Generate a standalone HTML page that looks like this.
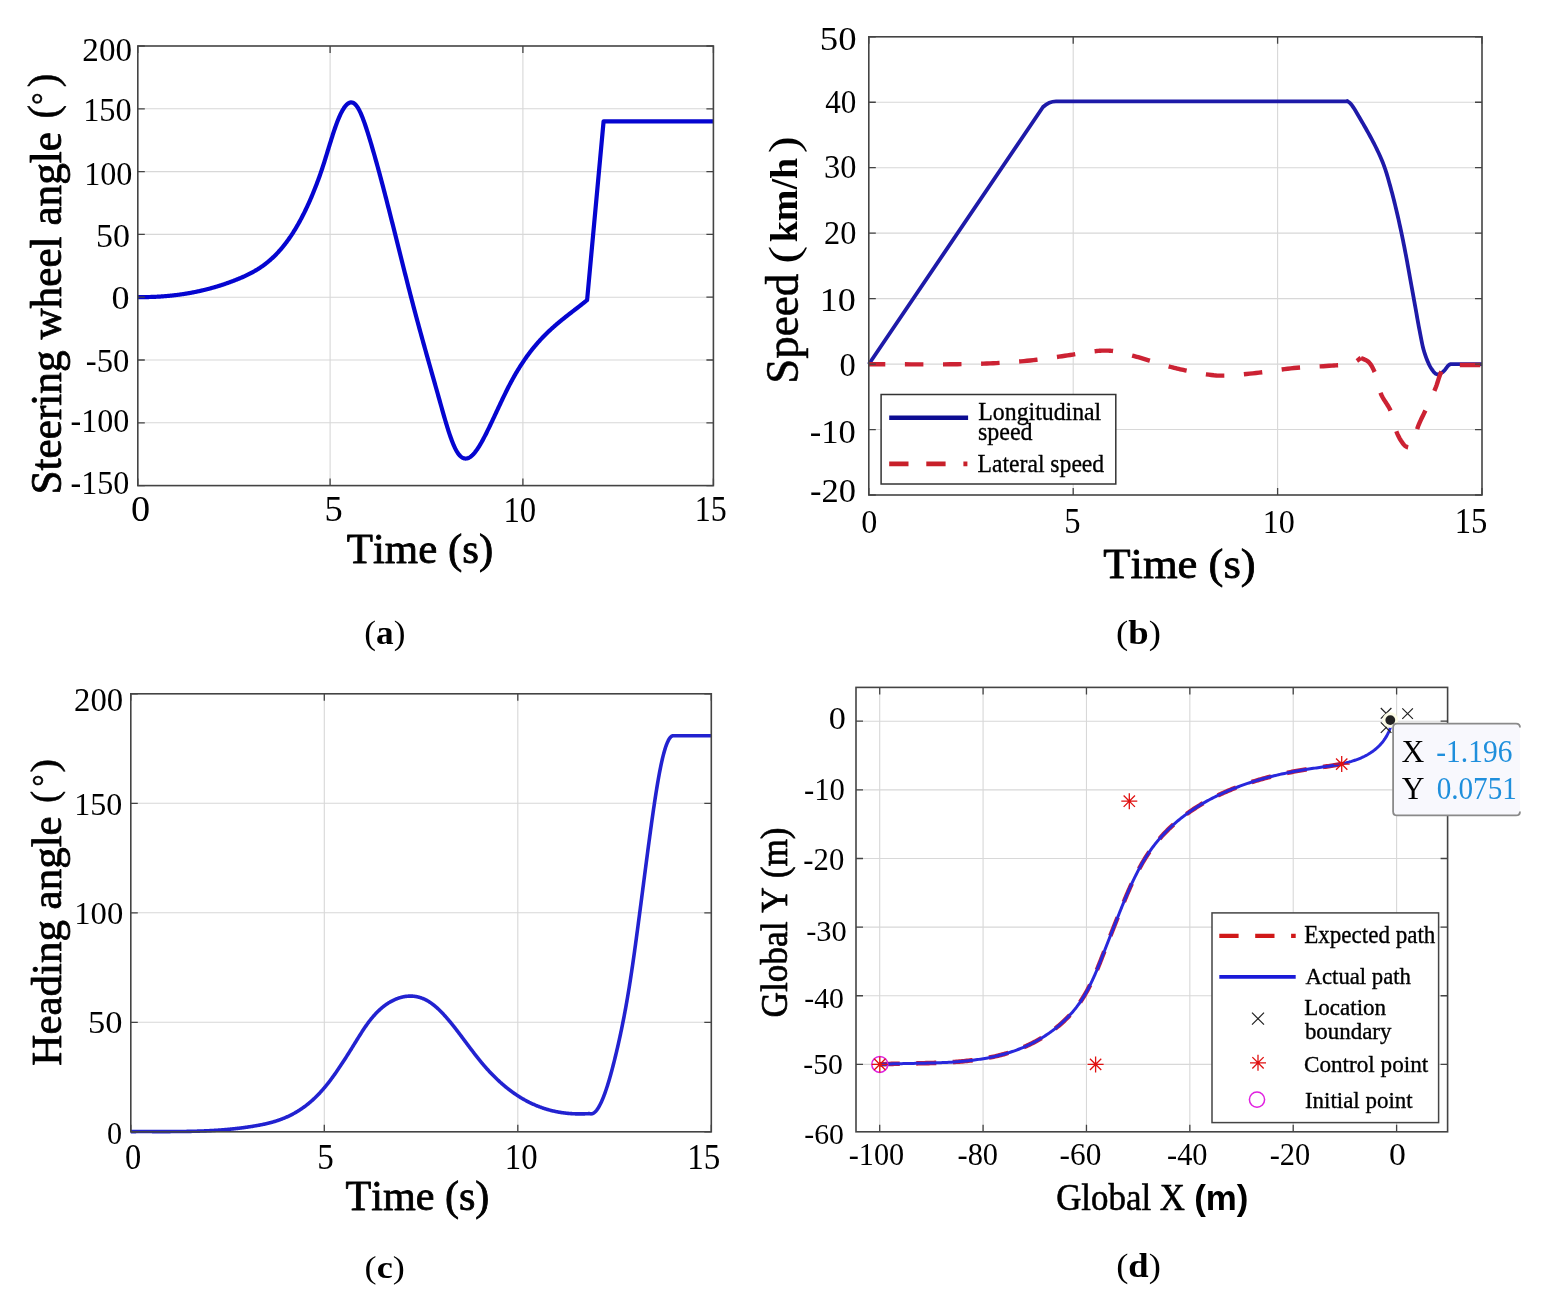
<!DOCTYPE html>
<html><head><meta charset="utf-8"><title>Figure</title><style>html,body{margin:0;padding:0;background:#fff;}body{width:1550px;height:1304px;overflow:hidden;}</style></head><body>
<svg width="1550" height="1304" viewBox="0 0 1550 1304" style="display:block;font-kerning:none">
<rect width="1550" height="1304" fill="#fff"/>
<path d="M330.10,46.00V485.60 M522.90,46.00V485.60 M137.80,108.80H713.40 M137.80,171.60H713.40 M137.80,234.40H713.40 M137.80,297.20H713.40 M137.80,360.00H713.40 M137.80,422.80H713.40" stroke="#d8d8d8" stroke-width="1.1" fill="none"/>
<path d="M137.80,297.10 L138.30,297.11 L138.80,297.11 L139.30,297.12 L139.80,297.12 L140.30,297.12 L140.80,297.12 L141.30,297.12 L141.80,297.12 L142.30,297.12 L142.80,297.12 L143.30,297.11 L143.80,297.11 L144.30,297.11 L144.80,297.10 L145.30,297.10 L145.80,297.09 L146.30,297.08 L146.80,297.07 L147.30,297.06 L147.80,297.05 L148.30,297.04 L148.80,297.03 L149.30,297.02 L149.80,297.00 L150.30,296.99 L150.80,296.97 L151.30,296.96 L151.80,296.94 L152.30,296.92 L152.80,296.91 L153.30,296.89 L153.80,296.87 L154.30,296.85 L154.80,296.82 L155.30,296.80 L155.80,296.78 L156.30,296.75 L156.80,296.73 L157.30,296.70 L157.80,296.67 L158.30,296.65 L158.80,296.62 L159.30,296.59 L159.80,296.56 L160.30,296.53 L160.80,296.49 L161.30,296.46 L161.80,296.43 L162.30,296.39 L162.80,296.35 L163.30,296.32 L163.80,296.28 L164.30,296.24 L164.80,296.20 L165.30,296.16 L165.80,296.12 L166.30,296.08 L166.80,296.03 L167.30,295.99 L167.80,295.94 L168.30,295.90 L168.80,295.85 L169.30,295.80 L169.80,295.75 L170.30,295.70 L170.80,295.65 L171.30,295.60 L171.80,295.55 L172.30,295.50 L172.80,295.44 L173.30,295.38 L173.80,295.33 L174.30,295.27 L174.80,295.21 L175.30,295.15 L175.80,295.09 L176.30,295.03 L176.80,294.97 L177.30,294.90 L177.80,294.84 L178.30,294.78 L178.80,294.71 L179.30,294.64 L179.80,294.57 L180.30,294.50 L180.80,294.43 L181.30,294.36 L181.80,294.29 L182.30,294.22 L182.80,294.14 L183.30,294.07 L183.80,293.99 L184.30,293.91 L184.80,293.83 L185.30,293.75 L185.80,293.67 L186.30,293.59 L186.80,293.51 L187.30,293.43 L187.80,293.34 L188.30,293.25 L188.80,293.17 L189.30,293.08 L189.80,292.99 L190.30,292.90 L190.80,292.81 L191.30,292.72 L191.80,292.62 L192.30,292.53 L192.80,292.43 L193.30,292.34 L193.80,292.24 L194.30,292.14 L194.80,292.04 L195.30,291.94 L195.80,291.84 L196.30,291.74 L196.80,291.63 L197.30,291.53 L197.80,291.42 L198.30,291.31 L198.80,291.21 L199.30,291.10 L199.80,290.99 L200.30,290.87 L200.80,290.76 L201.30,290.65 L201.80,290.53 L202.30,290.42 L202.80,290.30 L203.30,290.18 L203.80,290.06 L204.30,289.94 L204.80,289.82 L205.30,289.69 L205.80,289.57 L206.30,289.44 L206.80,289.32 L207.30,289.19 L207.80,289.06 L208.30,288.93 L208.80,288.80 L209.30,288.67 L209.80,288.54 L210.30,288.40 L210.80,288.26 L211.30,288.13 L211.80,287.99 L212.30,287.85 L212.80,287.71 L213.30,287.57 L213.80,287.43 L214.30,287.28 L214.80,287.14 L215.30,286.99 L215.80,286.84 L216.30,286.69 L216.80,286.54 L217.30,286.39 L217.80,286.24 L218.30,286.09 L218.80,285.93 L219.30,285.77 L219.80,285.62 L220.30,285.46 L220.80,285.30 L221.30,285.14 L221.80,284.97 L222.30,284.81 L222.80,284.65 L223.30,284.48 L223.80,284.31 L224.30,284.14 L224.80,283.98 L225.30,283.80 L225.80,283.63 L226.30,283.46 L226.80,283.28 L227.30,283.11 L227.80,282.93 L228.30,282.75 L228.80,282.57 L229.30,282.39 L229.80,282.21 L230.30,282.02 L230.80,281.84 L231.30,281.65 L231.80,281.47 L232.30,281.28 L232.80,281.09 L233.30,280.90 L233.80,280.70 L234.30,280.51 L234.80,280.31 L235.30,280.12 L235.80,279.92 L236.30,279.72 L236.80,279.52 L237.30,279.32 L237.80,279.11 L238.30,278.91 L238.80,278.70 L239.30,278.50 L239.80,278.29 L240.30,278.08 L240.80,277.86 L241.30,277.65 L241.80,277.44 L242.30,277.22 L242.80,277.00 L243.30,276.78 L243.80,276.55 L244.30,276.33 L244.80,276.10 L245.30,275.87 L245.80,275.64 L246.30,275.40 L246.80,275.17 L247.30,274.93 L247.80,274.68 L248.30,274.44 L248.80,274.19 L249.30,273.94 L249.80,273.69 L250.30,273.43 L250.80,273.17 L251.30,272.91 L251.80,272.64 L252.30,272.37 L252.80,272.10 L253.30,271.82 L253.80,271.54 L254.30,271.26 L254.80,270.97 L255.30,270.68 L255.80,270.39 L256.30,270.09 L256.80,269.79 L257.30,269.48 L257.80,269.17 L258.30,268.86 L258.80,268.54 L259.30,268.22 L259.80,267.89 L260.30,267.56 L260.80,267.22 L261.30,266.88 L261.80,266.54 L262.30,266.19 L262.80,265.83 L263.30,265.47 L263.80,265.11 L264.30,264.74 L264.80,264.36 L265.30,263.98 L265.80,263.60 L266.30,263.21 L266.80,262.81 L267.30,262.41 L267.80,262.00 L268.30,261.59 L268.80,261.17 L269.30,260.75 L269.80,260.32 L270.30,259.88 L270.80,259.44 L271.30,259.00 L271.80,258.54 L272.30,258.08 L272.80,257.62 L273.30,257.15 L273.80,256.67 L274.30,256.18 L274.80,255.69 L275.30,255.19 L275.80,254.69 L276.30,254.18 L276.80,253.66 L277.30,253.13 L277.80,252.60 L278.30,252.06 L278.80,251.52 L279.30,250.96 L279.80,250.40 L280.30,249.83 L280.80,249.26 L281.30,248.68 L281.80,248.09 L282.30,247.49 L282.80,246.88 L283.30,246.27 L283.80,245.65 L284.30,245.02 L284.80,244.38 L285.30,243.74 L285.80,243.09 L286.30,242.42 L286.80,241.75 L287.30,241.08 L287.80,240.39 L288.30,239.70 L288.80,238.99 L289.30,238.28 L289.80,237.56 L290.30,236.83 L290.80,236.10 L291.30,235.35 L291.80,234.59 L292.30,233.83 L292.80,233.05 L293.30,232.27 L293.80,231.48 L294.30,230.68 L294.80,229.87 L295.30,229.05 L295.80,228.22 L296.30,227.38 L296.80,226.53 L297.30,225.67 L297.80,224.80 L298.30,223.92 L298.80,223.03 L299.30,222.13 L299.80,221.22 L300.30,220.31 L300.80,219.38 L301.30,218.44 L301.80,217.49 L302.30,216.53 L302.80,215.56 L303.30,214.57 L303.80,213.58 L304.30,212.58 L304.80,211.56 L305.30,210.54 L305.80,209.50 L306.30,208.45 L306.80,207.39 L307.30,206.32 L307.80,205.24 L308.30,204.15 L308.80,203.04 L309.30,201.92 L309.80,200.79 L310.30,199.65 L310.80,198.50 L311.30,197.33 L311.80,196.15 L312.30,194.96 L312.80,193.76 L313.30,192.54 L313.80,191.31 L314.30,190.07 L314.80,188.82 L315.30,187.55 L315.80,186.27 L316.30,184.98 L316.80,183.67 L317.30,182.35 L317.80,181.01 L318.30,179.66 L318.80,178.29 L319.30,176.91 L319.80,175.51 L320.30,174.09 L320.80,172.65 L321.30,171.19 L321.80,169.71 L322.30,168.22 L322.80,166.70 L323.30,165.16 L323.80,163.61 L324.30,162.03 L324.80,160.45 L325.30,158.85 L325.80,157.24 L326.30,155.63 L326.80,154.00 L327.30,152.37 L327.80,150.74 L328.30,149.11 L328.80,147.48 L329.30,145.86 L329.80,144.24 L330.30,142.62 L330.80,141.01 L331.30,139.42 L331.80,137.84 L332.30,136.27 L332.80,134.72 L333.30,133.18 L333.80,131.67 L334.30,130.18 L334.80,128.71 L335.30,127.27 L335.80,125.86 L336.30,124.48 L336.80,123.13 L337.30,121.81 L337.80,120.53 L338.30,119.28 L338.80,118.08 L339.30,116.91 L339.80,115.78 L340.30,114.69 L340.80,113.65 L341.30,112.64 L341.80,111.68 L342.30,110.76 L342.80,109.88 L343.30,109.05 L343.80,108.27 L344.30,107.53 L344.80,106.83 L345.30,106.19 L345.80,105.59 L346.30,105.04 L346.80,104.54 L347.30,104.10 L347.80,103.70 L348.30,103.36 L348.80,103.07 L349.30,102.83 L349.80,102.64 L350.30,102.51 L350.80,102.44 L351.30,102.43 L351.80,102.47 L352.30,102.56 L352.80,102.72 L353.30,102.94 L353.80,103.21 L354.30,103.55 L354.80,103.95 L355.30,104.41 L355.80,104.94 L356.30,105.53 L356.80,106.18 L357.30,106.89 L357.80,107.67 L358.30,108.50 L358.80,109.39 L359.30,110.34 L359.80,111.34 L360.30,112.39 L360.80,113.49 L361.30,114.63 L361.80,115.83 L362.30,117.06 L362.80,118.33 L363.30,119.65 L363.80,121.00 L364.30,122.39 L364.80,123.81 L365.30,125.26 L365.80,126.74 L366.30,128.25 L366.80,129.79 L367.30,131.35 L367.80,132.93 L368.30,134.53 L368.80,136.15 L369.30,137.78 L369.80,139.43 L370.30,141.09 L370.80,142.76 L371.30,144.45 L371.80,146.14 L372.30,147.85 L372.80,149.57 L373.30,151.29 L373.80,153.03 L374.30,154.78 L374.80,156.54 L375.30,158.31 L375.80,160.09 L376.30,161.88 L376.80,163.68 L377.30,165.48 L377.80,167.30 L378.30,169.13 L378.80,170.96 L379.30,172.80 L379.80,174.65 L380.30,176.51 L380.80,178.37 L381.30,180.24 L381.80,182.12 L382.30,184.01 L382.80,185.90 L383.30,187.80 L383.80,189.71 L384.30,191.62 L384.80,193.54 L385.30,195.46 L385.80,197.39 L386.30,199.32 L386.80,201.26 L387.30,203.21 L387.80,205.15 L388.30,207.11 L388.80,209.07 L389.30,211.03 L389.80,212.99 L390.30,214.96 L390.80,216.93 L391.30,218.91 L391.80,220.89 L392.30,222.87 L392.80,224.85 L393.30,226.84 L393.80,228.82 L394.30,230.81 L394.80,232.80 L395.30,234.80 L395.80,236.79 L396.30,238.79 L396.80,240.78 L397.30,242.78 L397.80,244.78 L398.30,246.77 L398.80,248.77 L399.30,250.77 L399.80,252.76 L400.30,254.76 L400.80,256.75 L401.30,258.75 L401.80,260.74 L402.30,262.73 L402.80,264.72 L403.30,266.71 L403.80,268.69 L404.30,270.67 L404.80,272.65 L405.30,274.63 L405.80,276.60 L406.30,278.58 L406.80,280.54 L407.30,282.51 L407.80,284.47 L408.30,286.42 L408.80,288.38 L409.30,290.32 L409.80,292.27 L410.30,294.20 L410.80,296.14 L411.30,298.06 L411.80,299.98 L412.30,301.90 L412.80,303.81 L413.30,305.71 L413.80,307.61 L414.30,309.50 L414.80,311.39 L415.30,313.26 L415.80,315.14 L416.30,317.00 L416.80,318.86 L417.30,320.72 L417.80,322.57 L418.30,324.41 L418.80,326.25 L419.30,328.08 L419.80,329.91 L420.30,331.73 L420.80,333.55 L421.30,335.37 L421.80,337.18 L422.30,338.99 L422.80,340.79 L423.30,342.59 L423.80,344.39 L424.30,346.18 L424.80,347.98 L425.30,349.76 L425.80,351.55 L426.30,353.33 L426.80,355.11 L427.30,356.89 L427.80,358.67 L428.30,360.44 L428.80,362.21 L429.30,363.99 L429.80,365.76 L430.30,367.53 L430.80,369.29 L431.30,371.06 L431.80,372.83 L432.30,374.60 L432.80,376.36 L433.30,378.13 L433.80,379.90 L434.30,381.66 L434.80,383.43 L435.30,385.20 L435.80,386.97 L436.30,388.74 L436.80,390.51 L437.30,392.28 L437.80,394.05 L438.30,395.83 L438.80,397.61 L439.30,399.39 L439.80,401.17 L440.30,402.95 L440.80,404.73 L441.30,406.51 L441.80,408.29 L442.30,410.06 L442.80,411.83 L443.30,413.58 L443.80,415.32 L444.30,417.06 L444.80,418.78 L445.30,420.48 L445.80,422.16 L446.30,423.83 L446.80,425.47 L447.30,427.10 L447.80,428.70 L448.30,430.27 L448.80,431.81 L449.30,433.33 L449.80,434.82 L450.30,436.27 L450.80,437.69 L451.30,439.07 L451.80,440.41 L452.30,441.72 L452.80,442.98 L453.30,444.20 L453.80,445.38 L454.30,446.51 L454.80,447.59 L455.30,448.63 L455.80,449.61 L456.30,450.54 L456.80,451.41 L457.30,452.23 L457.80,453.00 L458.30,453.71 L458.80,454.37 L459.30,454.98 L459.80,455.53 L460.30,456.04 L460.80,456.50 L461.30,456.91 L461.80,457.27 L462.30,457.58 L462.80,457.85 L463.30,458.08 L463.80,458.25 L464.30,458.39 L464.80,458.48 L465.30,458.53 L465.80,458.54 L466.30,458.51 L466.80,458.44 L467.30,458.33 L467.80,458.18 L468.30,457.99 L468.80,457.77 L469.30,457.51 L469.80,457.22 L470.30,456.89 L470.80,456.53 L471.30,456.14 L471.80,455.72 L472.30,455.26 L472.80,454.77 L473.30,454.26 L473.80,453.72 L474.30,453.15 L474.80,452.55 L475.30,451.92 L475.80,451.27 L476.30,450.60 L476.80,449.90 L477.30,449.18 L477.80,448.44 L478.30,447.67 L478.80,446.89 L479.30,446.08 L479.80,445.26 L480.30,444.42 L480.80,443.56 L481.30,442.68 L481.80,441.79 L482.30,440.89 L482.80,439.97 L483.30,439.03 L483.80,438.08 L484.30,437.13 L484.80,436.16 L485.30,435.18 L485.80,434.19 L486.30,433.19 L486.80,432.19 L487.30,431.17 L487.80,430.16 L488.30,429.13 L488.80,428.10 L489.30,427.07 L489.80,426.03 L490.30,424.99 L490.80,423.94 L491.30,422.89 L491.80,421.84 L492.30,420.78 L492.80,419.72 L493.30,418.66 L493.80,417.60 L494.30,416.53 L494.80,415.46 L495.30,414.40 L495.80,413.33 L496.30,412.26 L496.80,411.19 L497.30,410.12 L497.80,409.05 L498.30,407.99 L498.80,406.92 L499.30,405.86 L499.80,404.79 L500.30,403.73 L500.80,402.67 L501.30,401.62 L501.80,400.57 L502.30,399.52 L502.80,398.47 L503.30,397.43 L503.80,396.39 L504.30,395.36 L504.80,394.33 L505.30,393.31 L505.80,392.29 L506.30,391.28 L506.80,390.28 L507.30,389.28 L507.80,388.29 L508.30,387.30 L508.80,386.33 L509.30,385.36 L509.80,384.40 L510.30,383.44 L510.80,382.50 L511.30,381.57 L511.80,380.64 L512.30,379.72 L512.80,378.81 L513.30,377.91 L513.80,377.02 L514.30,376.14 L514.80,375.26 L515.30,374.39 L515.80,373.53 L516.30,372.68 L516.80,371.84 L517.30,371.00 L517.80,370.18 L518.30,369.36 L518.80,368.54 L519.30,367.74 L519.80,366.94 L520.30,366.15 L520.80,365.37 L521.30,364.60 L521.80,363.83 L522.30,363.07 L522.80,362.32 L523.30,361.57 L523.80,360.83 L524.30,360.10 L524.80,359.38 L525.30,358.66 L525.80,357.95 L526.30,357.24 L526.80,356.54 L527.30,355.85 L527.80,355.17 L528.30,354.49 L528.80,353.82 L529.30,353.15 L529.80,352.49 L530.30,351.84 L530.80,351.19 L531.30,350.55 L531.80,349.91 L532.30,349.28 L532.80,348.66 L533.30,348.04 L533.80,347.43 L534.30,346.82 L534.80,346.22 L535.30,345.62 L535.80,345.03 L536.30,344.44 L536.80,343.86 L537.30,343.29 L537.80,342.72 L538.30,342.15 L538.80,341.59 L539.30,341.04 L539.80,340.49 L540.30,339.94 L540.80,339.40 L541.30,338.86 L541.80,338.33 L542.30,337.80 L542.80,337.28 L543.30,336.76 L543.80,336.25 L544.30,335.74 L544.80,335.23 L545.30,334.73 L545.80,334.23 L546.30,333.74 L546.80,333.25 L547.30,332.76 L547.80,332.28 L548.30,331.80 L548.80,331.32 L549.30,330.85 L549.80,330.38 L550.30,329.91 L550.80,329.45 L551.30,328.99 L551.80,328.54 L552.30,328.09 L552.80,327.64 L553.30,327.19 L553.80,326.74 L554.30,326.30 L554.80,325.87 L555.30,325.43 L555.80,325.00 L556.30,324.57 L556.80,324.14 L557.30,323.71 L557.80,323.29 L558.30,322.87 L558.80,322.45 L559.30,322.03 L559.80,321.62 L560.30,321.20 L560.80,320.79 L561.30,320.38 L561.80,319.98 L562.30,319.57 L562.80,319.17 L563.30,318.77 L563.80,318.36 L564.30,317.97 L564.80,317.57 L565.30,317.17 L565.80,316.78 L566.30,316.38 L566.80,315.99 L567.30,315.60 L567.80,315.20 L568.30,314.81 L568.80,314.42 L569.30,314.03 L569.80,313.65 L570.30,313.26 L570.80,312.87 L571.30,312.48 L571.80,312.10 L572.30,311.71 L572.80,311.33 L573.30,310.94 L573.80,310.56 L574.30,310.17 L574.80,309.78 L575.30,309.40 L575.80,309.01 L576.30,308.63 L576.80,308.24 L577.30,307.85 L577.80,307.47 L578.30,307.08 L578.80,306.69 L579.30,306.30 L579.80,305.91 L580.30,305.52 L580.80,305.13 L581.30,304.74 L581.80,304.35 L582.30,303.95 L582.80,303.56 L583.30,303.16 L583.80,302.76 L584.30,302.37 L584.80,301.96 L585.30,301.56 L585.80,301.16 L586.30,300.75 L586.80,300.35 L587.10,300.10 L603.6,121.3 L713.4,121.3" stroke="#0505d0" stroke-width="4.2" fill="none" stroke-linejoin="round"/>
<path d="M137.80,485.60v-7 M137.80,46.00v7 M330.10,485.60v-7 M330.10,46.00v7 M522.90,485.60v-7 M522.90,46.00v7 M713.40,485.60v-7 M713.40,46.00v7 M137.80,46.00h7 M713.40,46.00h-7 M137.80,108.80h7 M713.40,108.80h-7 M137.80,171.60h7 M713.40,171.60h-7 M137.80,234.40h7 M713.40,234.40h-7 M137.80,297.20h7 M713.40,297.20h-7 M137.80,360.00h7 M713.40,360.00h-7 M137.80,422.80h7 M713.40,422.80h-7 M137.80,485.60h7 M713.40,485.60h-7" stroke="#444" stroke-width="1.3" fill="none"/>
<rect x="137.80" y="46.00" width="575.60" height="439.60" stroke="#444" stroke-width="1.6" fill="none"/>
<text transform="translate(82.35,61.37) scale(0.9832,1)" font-family="'Liberation Serif', 'Times New Roman', serif" font-weight="normal" font-size="33.64" fill="#000" >200</text>
<text transform="translate(83.15,120.67) scale(0.9628,1)" font-family="'Liberation Serif', 'Times New Roman', serif" font-weight="normal" font-size="33.64" fill="#000" >150</text>
<text transform="translate(84.17,184.67) scale(0.9563,1)" font-family="'Liberation Serif', 'Times New Roman', serif" font-weight="normal" font-size="33.64" fill="#000" >100</text>
<text transform="translate(96.03,247.17) scale(1.0098,1)" font-family="'Liberation Serif', 'Times New Roman', serif" font-weight="normal" font-size="33.64" fill="#000" >50</text>
<text transform="translate(111.43,309.17) scale(1.0731,1)" font-family="'Liberation Serif', 'Times New Roman', serif" font-weight="normal" font-size="33.64" fill="#000" >0</text>
<text transform="translate(85.79,371.57) scale(0.9714,1)" font-family="'Liberation Serif', 'Times New Roman', serif" font-weight="normal" font-size="33.64" fill="#000" >-50</text>
<text transform="translate(70.51,432.27) scale(0.9538,1)" font-family="'Liberation Serif', 'Times New Roman', serif" font-weight="normal" font-size="33.64" fill="#000" >-100</text>
<text transform="translate(70.51,493.67) scale(0.9538,1)" font-family="'Liberation Serif', 'Times New Roman', serif" font-weight="normal" font-size="33.64" fill="#000" >-150</text>
<text transform="translate(130.94,520.65) scale(1.0747,1)" font-family="'Liberation Serif', 'Times New Roman', serif" font-weight="normal" font-size="35.57" fill="#000" >0</text>
<text transform="translate(324.58,520.66) scale(1.0408,1)" font-family="'Liberation Serif', 'Times New Roman', serif" font-weight="normal" font-size="35.06" fill="#000" >5</text>
<text transform="translate(503.42,521.66) scale(0.9396,1)" font-family="'Liberation Serif', 'Times New Roman', serif" font-weight="normal" font-size="34.82" fill="#000" >10</text>
<text transform="translate(694.69,520.66) scale(0.9071,1)" font-family="'Liberation Serif', 'Times New Roman', serif" font-weight="normal" font-size="35.23" fill="#000" >15</text>
<text transform="translate(346.72,563.00) scale(1.0220,1)" font-family="'Liberation Serif', 'Times New Roman', serif" font-weight="normal" font-size="41.98" fill="#000" stroke="#000" stroke-width="0.8" stroke-linejoin="round" >Time (s)</text>
<text transform="translate(61.30,494.49) rotate(-90) scale(0.9706,1)" font-family="'Liberation Serif', 'Times New Roman', serif" font-weight="normal" font-size="44.56" fill="#000" stroke="#000" stroke-width="0.8" stroke-linejoin="round">Steering wheel angle</text>
<text transform="translate(57.10,118.48) rotate(-90) scale(0.9664,1)" font-family="'Liberation Serif', 'Times New Roman', serif" font-weight="normal" font-size="41.90" fill="#000" stroke="#000" stroke-width="0.5" stroke-linejoin="round">(</text>
<text transform="translate(54.40,104.65) rotate(-90) scale(0.9393,1)" font-family="'Liberation Serif', 'Times New Roman', serif" font-weight="normal" font-size="32.30" fill="#000" stroke="#000" stroke-width="0.5" stroke-linejoin="round">°</text>
<text transform="translate(57.10,87.30) rotate(-90) scale(0.9664,1)" font-family="'Liberation Serif', 'Times New Roman', serif" font-weight="normal" font-size="41.90" fill="#000" stroke="#000" stroke-width="0.5" stroke-linejoin="round">)</text>
<text transform="translate(364.35,643.60) scale(1.0149,1)" font-family="'Liberation Serif', 'Times New Roman', serif" font-size="34.73">(<tspan font-weight="bold">a</tspan>)</text>
<text transform="translate(1116.09,644.40) scale(1.0696,1)" font-family="'Liberation Serif', 'Times New Roman', serif" font-size="34.29">(<tspan font-weight="bold">b</tspan>)</text>
<text transform="translate(364.61,1277.90) scale(1.1169,1)" font-family="'Liberation Serif', 'Times New Roman', serif" font-size="32.41">(<tspan font-weight="bold">c</tspan>)</text>
<text transform="translate(1116.19,1277.41) scale(1.0845,1)" font-family="'Liberation Serif', 'Times New Roman', serif" font-size="33.74">(<tspan font-weight="bold">d</tspan>)</text>
<path d="M1073.20,36.80V495.00 M1277.60,36.80V495.00 M868.80,102.26H1482.00 M868.80,167.71H1482.00 M868.80,233.17H1482.00 M868.80,298.63H1482.00 M868.80,364.09H1482.00 M868.80,429.54H1482.00" stroke="#d8d8d8" stroke-width="1.1" fill="none"/>
<path d="M868.8,364.2 L1043,107 Q1049,101.3 1056,101.3 L1347.3,101.3 L1347.30,101.00 L1347.58,101.22 L1347.85,101.43 L1348.12,101.62 L1348.39,101.81 L1348.66,101.99 L1348.93,102.19 L1349.20,102.39 L1349.48,102.61 L1349.77,102.86 L1350.07,103.14 L1350.38,103.45 L1350.70,103.80 L1351.47,104.73 L1352.30,105.86 L1353.18,107.14 L1354.11,108.57 L1355.08,110.11 L1356.08,111.74 L1357.10,113.45 L1358.13,115.20 L1359.17,116.97 L1360.19,118.75 L1361.21,120.50 L1362.20,122.20 L1363.34,124.17 L1364.52,126.20 L1365.71,128.30 L1366.92,130.44 L1368.14,132.61 L1369.34,134.79 L1370.54,136.98 L1371.71,139.16 L1372.85,141.32 L1373.95,143.43 L1375.01,145.50 L1376.00,147.50 L1376.79,149.12 L1377.55,150.70 L1378.29,152.24 L1379.00,153.76 L1379.68,155.26 L1380.35,156.75 L1381.00,158.24 L1381.64,159.74 L1382.27,161.26 L1382.88,162.80 L1383.49,164.38 L1384.10,166.00 L1384.75,167.81 L1385.38,169.66 L1385.99,171.54 L1386.59,173.44 L1387.17,175.37 L1387.74,177.31 L1388.30,179.26 L1388.85,181.21 L1389.40,183.17 L1389.94,185.12 L1390.47,187.07 L1391.00,189.00 L1391.52,190.92 L1392.04,192.84 L1392.55,194.77 L1393.05,196.70 L1393.54,198.63 L1394.03,200.56 L1394.50,202.49 L1394.98,204.41 L1395.44,206.33 L1395.90,208.23 L1396.35,210.12 L1396.80,212.00 L1397.21,213.76 L1397.62,215.50 L1398.02,217.22 L1398.41,218.93 L1398.79,220.64 L1399.17,222.34 L1399.54,224.05 L1399.91,225.75 L1400.29,227.47 L1400.66,229.20 L1401.03,230.94 L1401.40,232.70 L1401.79,234.57 L1402.18,236.45 L1402.57,238.33 L1402.96,240.23 L1403.34,242.14 L1403.73,244.05 L1404.11,245.97 L1404.49,247.90 L1404.87,249.84 L1405.25,251.79 L1405.62,253.74 L1406.00,255.70 L1406.39,257.76 L1406.78,259.84 L1407.17,261.94 L1407.55,264.04 L1407.93,266.15 L1408.31,268.27 L1408.70,270.39 L1409.08,272.52 L1409.46,274.64 L1409.84,276.77 L1410.22,278.89 L1410.60,281.00 L1410.98,283.12 L1411.37,285.23 L1411.75,287.35 L1412.13,289.46 L1412.52,291.58 L1412.90,293.70 L1413.28,295.82 L1413.67,297.94 L1414.05,300.05 L1414.43,302.17 L1414.82,304.28 L1415.20,306.40 L1415.58,308.52 L1415.96,310.65 L1416.34,312.79 L1416.71,314.93 L1417.09,317.08 L1417.47,319.22 L1417.85,321.35 L1418.23,323.46 L1418.62,325.56 L1419.00,327.64 L1419.40,329.68 L1419.80,331.70 L1420.16,333.51 L1420.51,335.31 L1420.85,337.10 L1421.19,338.88 L1421.53,340.64 L1421.88,342.38 L1422.24,344.11 L1422.62,345.81 L1423.02,347.50 L1423.45,349.16 L1423.91,350.79 L1424.40,352.40 L1424.88,353.86 L1425.38,355.34 L1425.90,356.82 L1426.44,358.29 L1427.00,359.75 L1427.58,361.18 L1428.17,362.56 L1428.77,363.90 L1429.39,365.17 L1430.02,366.37 L1430.66,367.48 L1431.30,368.50 L1431.74,369.16 L1432.19,369.81 L1432.65,370.46 L1433.10,371.08 L1433.57,371.67 L1434.04,372.22 L1434.51,372.73 L1435.00,373.19 L1435.49,373.58 L1435.98,373.90 L1436.49,374.14 L1437.00,374.30 L1437.46,374.36 L1437.93,374.35 L1438.41,374.28 L1438.89,374.16 L1439.38,373.99 L1439.87,373.78 L1440.37,373.53 L1440.86,373.25 L1441.36,372.96 L1441.84,372.64 L1442.33,372.32 L1442.80,372.00 L1443.39,371.53 L1443.97,370.95 L1444.54,370.30 L1445.11,369.58 L1445.67,368.83 L1446.23,368.06 L1446.79,367.31 L1447.36,366.59 L1447.93,365.93 L1448.51,365.34 L1449.10,364.86 L1449.70,364.50 L1450.17,364.31 L1450.64,364.18 L1451.11,364.10 L1451.60,364.06 L1452.08,364.05 L1452.57,364.06 L1453.06,364.09 L1453.55,364.13 L1454.04,364.17 L1454.53,364.20 L1455.02,364.21 L1455.50,364.20 L1482,364.2" stroke="#1e1aa8" stroke-width="3.8" fill="none" stroke-linejoin="round"/>
<path d="M868.80,364.20 L875.66,364.21 L882.66,364.24 L889.77,364.26 L896.92,364.29 L904.07,364.32 L911.18,364.35 L918.18,364.37 L925.04,364.39 L931.70,364.39 L938.11,364.38 L944.23,364.35 L950.00,364.30 L953.83,364.26 L957.50,364.22 L961.02,364.17 L964.43,364.13 L967.74,364.07 L970.98,364.01 L974.16,363.95 L977.30,363.87 L980.44,363.77 L983.59,363.67 L986.77,363.54 L990.00,363.40 L993.13,363.25 L996.25,363.09 L999.35,362.92 L1002.43,362.74 L1005.50,362.55 L1008.57,362.35 L1011.63,362.13 L1014.69,361.90 L1017.76,361.65 L1020.83,361.39 L1023.91,361.10 L1027.00,360.80 L1030.17,360.47 L1033.37,360.11 L1036.59,359.72 L1039.83,359.31 L1043.07,358.89 L1046.30,358.46 L1049.51,358.01 L1052.70,357.57 L1055.86,357.12 L1058.96,356.67 L1062.01,356.23 L1065.00,355.80 L1067.60,355.42 L1070.24,355.01 L1072.88,354.59 L1075.52,354.15 L1078.12,353.72 L1080.69,353.30 L1083.18,352.89 L1085.59,352.50 L1087.90,352.13 L1090.08,351.81 L1092.12,351.53 L1094.00,351.30 L1095.01,351.19 L1095.96,351.09 L1096.85,350.99 L1097.70,350.91 L1098.51,350.84 L1099.29,350.78 L1100.06,350.72 L1100.82,350.68 L1101.59,350.65 L1102.36,350.62 L1103.17,350.61 L1104.00,350.60 L1104.89,350.60 L1105.78,350.60 L1106.66,350.62 L1107.55,350.64 L1108.43,350.67 L1109.33,350.71 L1110.23,350.77 L1111.15,350.84 L1112.08,350.93 L1113.03,351.03 L1114.00,351.16 L1115.00,351.30 L1116.29,351.52 L1117.62,351.77 L1118.98,352.07 L1120.38,352.39 L1121.79,352.74 L1123.23,353.11 L1124.68,353.50 L1126.14,353.89 L1127.61,354.30 L1129.08,354.70 L1130.54,355.11 L1132.00,355.50 L1133.55,355.92 L1135.11,356.35 L1136.67,356.79 L1138.25,357.24 L1139.83,357.70 L1141.41,358.16 L1143.00,358.63 L1144.60,359.10 L1146.20,359.58 L1147.80,360.05 L1149.40,360.53 L1151.00,361.00 L1152.65,361.49 L1154.31,362.00 L1155.97,362.51 L1157.64,363.03 L1159.32,363.55 L1160.99,364.08 L1162.67,364.59 L1164.34,365.10 L1166.01,365.60 L1167.68,366.09 L1169.34,366.55 L1171.00,367.00 L1172.58,367.41 L1174.14,367.81 L1175.67,368.20 L1177.20,368.57 L1178.73,368.93 L1180.26,369.29 L1181.80,369.63 L1183.37,369.97 L1184.96,370.31 L1186.60,370.64 L1188.27,370.97 L1190.00,371.30 L1192.19,371.72 L1194.43,372.15 L1196.72,372.60 L1199.07,373.04 L1201.45,373.48 L1203.88,373.91 L1206.34,374.30 L1208.83,374.67 L1211.35,374.99 L1213.88,375.26 L1216.44,375.46 L1219.00,375.60 L1221.92,375.67 L1224.89,375.65 L1227.92,375.56 L1230.98,375.40 L1234.07,375.19 L1237.19,374.94 L1240.32,374.65 L1243.47,374.33 L1246.61,374.00 L1249.76,373.66 L1252.89,373.32 L1256.00,373.00 L1259.15,372.66 L1262.31,372.27 L1265.47,371.86 L1268.63,371.41 L1271.80,370.95 L1274.97,370.49 L1278.14,370.02 L1281.31,369.56 L1284.48,369.12 L1287.65,368.71 L1290.83,368.33 L1294.00,368.00 L1297.20,367.71 L1300.47,367.46 L1303.78,367.23 L1307.11,367.03 L1310.44,366.85 L1313.75,366.67 L1317.02,366.51 L1320.23,366.35 L1323.35,366.18 L1326.37,366.00 L1329.26,365.81 L1332.00,365.60 L1333.92,365.46 L1335.81,365.34 L1337.66,365.25 L1339.47,365.16 L1341.24,365.08 L1342.96,364.98 L1344.62,364.85 L1346.23,364.70 L1347.78,364.49 L1349.26,364.23 L1350.67,363.91 L1352.00,363.50 L1352.91,363.15 L1353.75,362.76 L1354.55,362.34 L1355.31,361.89 L1356.04,361.41 L1356.74,360.91 L1357.43,360.41 L1358.11,359.89 L1358.78,359.38 L1359.47,358.87 L1360.17,358.38 L1360.90,357.90" stroke="#cc2233" stroke-width="4.4" fill="none" stroke-dasharray="18.5 19.6" stroke-dashoffset="2" stroke-linejoin="round"/>
<path d="M1360.90,357.90 L1361.55,358.23 L1362.21,358.53 L1362.88,358.82 L1363.55,359.10 L1364.22,359.39 L1364.89,359.68 L1365.55,359.98 L1366.20,360.31 L1366.83,360.67 L1367.45,361.06 L1368.04,361.50 L1368.60,362.00 L1369.23,362.65 L1369.83,363.34 L1370.40,364.09 L1370.95,364.88 L1371.48,365.71 L1371.98,366.58 L1372.47,367.49 L1372.95,368.44 L1373.42,369.41 L1373.88,370.42 L1374.34,371.45 L1374.80,372.50 L1375.39,374.01 L1375.93,375.64 L1376.43,377.37 L1376.89,379.17 L1377.34,381.04 L1377.79,382.94 L1378.24,384.86 L1378.71,386.78 L1379.21,388.67 L1379.75,390.52 L1380.34,392.30 L1381.00,394.00 L1381.69,395.51 L1382.44,396.97 L1383.25,398.39 L1384.10,399.78 L1384.97,401.14 L1385.86,402.50 L1386.74,403.85 L1387.61,405.22 L1388.46,406.61 L1389.26,408.03 L1390.01,409.49 L1390.70,411.00 L1391.36,412.70 L1391.96,414.49 L1392.50,416.36 L1393.01,418.26 L1393.49,420.20 L1393.95,422.13 L1394.39,424.04 L1394.84,425.91 L1395.29,427.72 L1395.76,429.43 L1396.26,431.03 L1396.80,432.50 L1397.19,433.43 L1397.57,434.33 L1397.97,435.19 L1398.37,436.02 L1398.77,436.82 L1399.17,437.59 L1399.58,438.34 L1400.00,439.05 L1400.42,439.75 L1400.84,440.42 L1401.27,441.07 L1401.70,441.70 L1402.04,442.19 L1402.38,442.67 L1402.73,443.15 L1403.07,443.62 L1403.42,444.07 L1403.77,444.50 L1404.13,444.91 L1404.49,445.29 L1404.86,445.65 L1405.23,445.97 L1405.61,446.25 L1406.00,446.50 L1406.32,446.68 L1406.65,446.84 L1406.99,447.00 L1407.33,447.15 L1407.68,447.27 L1408.03,447.37 L1408.38,447.45 L1408.72,447.49 L1409.06,447.50 L1409.38,447.48 L1409.70,447.41 L1410.00,447.30 L1410.41,447.05 L1410.79,446.69 L1411.16,446.24 L1411.51,445.71 L1411.84,445.11 L1412.17,444.45 L1412.48,443.75 L1412.79,443.01 L1413.09,442.26 L1413.40,441.50 L1413.70,440.74 L1414.00,440.00 L1414.39,439.00 L1414.75,437.94 L1415.09,436.84 L1415.42,435.70 L1415.73,434.52 L1416.05,433.31 L1416.37,432.07 L1416.70,430.83 L1417.06,429.57 L1417.43,428.31 L1417.85,427.05 L1418.30,425.80 L1418.88,424.34 L1419.51,422.85 L1420.18,421.34 L1420.89,419.82 L1421.62,418.29 L1422.37,416.74 L1423.14,415.19 L1423.91,413.63 L1424.67,412.07 L1425.43,410.51 L1426.18,408.95 L1426.90,407.40 L1427.62,405.83 L1428.35,404.25 L1429.08,402.68 L1429.80,401.09 L1430.53,399.51 L1431.26,397.92 L1431.98,396.33 L1432.69,394.74 L1433.39,393.16 L1434.07,391.57 L1434.75,389.98 L1435.40,388.40 L1436.01,386.82 L1436.60,385.18 L1437.16,383.49 L1437.71,381.79 L1438.25,380.08 L1438.78,378.39 L1439.32,376.75 L1439.86,375.18 L1440.41,373.69 L1440.98,372.32 L1441.58,371.08 L1442.20,370.00 L1442.57,369.43 L1442.92,368.90 L1443.27,368.39 L1443.61,367.92 L1443.96,367.49 L1444.32,367.08 L1444.70,366.70 L1445.09,366.35 L1445.52,366.02 L1445.97,365.72 L1446.46,365.45 L1447.00,365.20 L1447.81,364.92 L1448.70,364.73 L1449.65,364.62 L1450.66,364.57 L1451.72,364.58 L1452.83,364.62 L1453.97,364.69 L1455.14,364.78 L1456.34,364.86 L1457.55,364.94 L1458.77,364.99 L1460.00,365.00 L1461.63,364.99 L1463.33,364.98 L1465.10,364.98 L1466.91,364.98 L1468.76,364.98 L1470.64,364.98 L1472.54,364.99 L1474.45,364.99 L1476.37,364.99 L1478.27,365.00 L1480.15,365.00 L1482.00,365.00" stroke="#cc2233" stroke-width="4.4" fill="none" stroke-dasharray="20.5 21.6" stroke-linejoin="round"/>
<path d="M868.80,495.00v-7 M868.80,36.80v7 M1073.20,495.00v-7 M1073.20,36.80v7 M1277.60,495.00v-7 M1277.60,36.80v7 M1482.00,495.00v-7 M1482.00,36.80v7 M868.80,36.80h7 M1482.00,36.80h-7 M868.80,102.26h7 M1482.00,102.26h-7 M868.80,167.71h7 M1482.00,167.71h-7 M868.80,233.17h7 M1482.00,233.17h-7 M868.80,298.63h7 M1482.00,298.63h-7 M868.80,364.09h7 M1482.00,364.09h-7 M868.80,429.54h7 M1482.00,429.54h-7 M868.80,495.00h7 M1482.00,495.00h-7" stroke="#444" stroke-width="1.3" fill="none"/>
<rect x="868.80" y="36.80" width="613.20" height="458.20" stroke="#444" stroke-width="1.6" fill="none"/>
<text transform="translate(819.87,49.97) scale(1.0824,1)" font-family="'Liberation Serif', 'Times New Roman', serif" font-weight="normal" font-size="33.94" fill="#000" >50</text>
<text transform="translate(825.27,112.58) scale(0.9500,1)" font-family="'Liberation Serif', 'Times New Roman', serif" font-weight="normal" font-size="32.75" fill="#000" >40</text>
<text transform="translate(824.05,177.87) scale(0.9500,1)" font-family="'Liberation Serif', 'Times New Roman', serif" font-weight="normal" font-size="34.08" fill="#000" >30</text>
<text transform="translate(824.05,244.07) scale(0.9500,1)" font-family="'Liberation Serif', 'Times New Roman', serif" font-weight="normal" font-size="34.08" fill="#000" >20</text>
<text transform="translate(819.83,310.66) scale(1.0393,1)" font-family="'Liberation Serif', 'Times New Roman', serif" font-weight="normal" font-size="34.68" fill="#000" >10</text>
<text transform="translate(839.48,376.17) scale(0.9500,1)" font-family="'Liberation Serif', 'Times New Roman', serif" font-weight="normal" font-size="34.23" fill="#000" >0</text>
<text transform="translate(809.72,442.67) scale(1.0147,1)" font-family="'Liberation Serif', 'Times New Roman', serif" font-weight="normal" font-size="34.08" fill="#000" >-10</text>
<text transform="translate(810.12,501.66) scale(1.0013,1)" font-family="'Liberation Serif', 'Times New Roman', serif" font-weight="normal" font-size="34.38" fill="#000" >-20</text>
<text transform="translate(861.37,532.96) scale(0.9300,1)" font-family="'Liberation Serif', 'Times New Roman', serif" font-weight="normal" font-size="34.53" fill="#000" >0</text>
<text transform="translate(1064.14,532.96) scale(0.9300,1)" font-family="'Liberation Serif', 'Times New Roman', serif" font-weight="normal" font-size="35.06" fill="#000" >5</text>
<text transform="translate(1262.74,532.96) scale(0.9300,1)" font-family="'Liberation Serif', 'Times New Roman', serif" font-weight="normal" font-size="34.53" fill="#000" >10</text>
<text transform="translate(1454.69,532.66) scale(0.9300,1)" font-family="'Liberation Serif', 'Times New Roman', serif" font-weight="normal" font-size="35.08" fill="#000" >15</text>
<text transform="translate(1103.19,577.50) scale(1.0375,1)" font-family="'Liberation Serif', 'Times New Roman', serif" font-weight="normal" font-size="43.05" fill="#000" stroke="#000" stroke-width="0.8" stroke-linejoin="round" >Time (s)</text>
<text transform="translate(798.00,383.82) rotate(-90) scale(0.9817,1)" font-family="'Liberation Serif', 'Times New Roman', serif" font-weight="normal" font-size="45.92" fill="#000" stroke="#000" stroke-width="0.5" stroke-linejoin="round">Speed</text>
<text transform="translate(798.00,263.66) rotate(-90) scale(1.2554,1)" font-family="'Liberation Serif', 'Times New Roman', serif" font-weight="normal" font-size="42.80" fill="#000">(</text>
<text transform="translate(797.40,242.25) rotate(-90) scale(1.0136,1)" font-family="'Liberation Serif', 'Times New Roman', serif" font-weight="bold" font-size="37.46" fill="#000">km/h</text>
<text transform="translate(798.00,153.02) rotate(-90) scale(1.1735,1)" font-family="'Liberation Serif', 'Times New Roman', serif" font-weight="normal" font-size="42.80" fill="#000">)</text>
<rect x="881.1" y="394.5" width="234.7" height="89.5" fill="#fff" stroke="#333" stroke-width="1.5"/>
<path d="M889.2,417.7H968.1" stroke="#0c0c92" stroke-width="4.6"/>
<path d="M889.2,463.9H967.4" stroke="#c8202a" stroke-width="4.6" stroke-dasharray="19.3 17.8"/>
<text transform="translate(978.31,419.80) scale(0.9225,1)" font-family="'Liberation Serif', 'Times New Roman', serif" font-weight="normal" font-size="25.80" fill="#000" stroke="#000" stroke-width="0.35" stroke-linejoin="round" >Longitudinal</text>
<text transform="translate(978.02,440.00) scale(0.9290,1)" font-family="'Liberation Serif', 'Times New Roman', serif" font-weight="normal" font-size="25.80" fill="#000" stroke="#000" stroke-width="0.35" stroke-linejoin="round" >speed</text>
<text transform="translate(977.52,472.30) scale(0.9116,1)" font-family="'Liberation Serif', 'Times New Roman', serif" font-weight="normal" font-size="25.95" fill="#000" stroke="#000" stroke-width="0.35" stroke-linejoin="round" >Lateral speed</text>
<path d="M324.30,693.80V1131.80 M517.80,693.80V1131.80 M130.80,803.30H711.30 M130.80,912.80H711.30 M130.80,1022.30H711.30" stroke="#d8d8d8" stroke-width="1.1" fill="none"/>
<path d="M130.80,1131.60 L131.30,1131.60 L131.80,1131.59 L132.30,1131.59 L132.80,1131.59 L133.30,1131.59 L133.80,1131.58 L134.30,1131.58 L134.80,1131.58 L135.30,1131.58 L135.80,1131.58 L136.30,1131.57 L136.80,1131.57 L137.30,1131.57 L137.80,1131.57 L138.30,1131.57 L138.80,1131.57 L139.30,1131.57 L139.80,1131.57 L140.30,1131.57 L140.80,1131.57 L141.30,1131.57 L141.80,1131.57 L142.30,1131.57 L142.80,1131.57 L143.30,1131.57 L143.80,1131.57 L144.30,1131.57 L144.80,1131.57 L145.30,1131.57 L145.80,1131.57 L146.30,1131.57 L146.80,1131.57 L147.30,1131.57 L147.80,1131.57 L148.30,1131.57 L148.80,1131.57 L149.30,1131.57 L149.80,1131.57 L150.30,1131.57 L150.80,1131.57 L151.30,1131.57 L151.80,1131.57 L152.30,1131.58 L152.80,1131.58 L153.30,1131.58 L153.80,1131.58 L154.30,1131.58 L154.80,1131.58 L155.30,1131.58 L155.80,1131.58 L156.30,1131.58 L156.80,1131.58 L157.30,1131.58 L157.80,1131.58 L158.30,1131.58 L158.80,1131.59 L159.30,1131.59 L159.80,1131.59 L160.30,1131.59 L160.80,1131.59 L161.30,1131.59 L161.80,1131.59 L162.30,1131.59 L162.80,1131.59 L163.30,1131.59 L163.80,1131.59 L164.30,1131.59 L164.80,1131.59 L165.30,1131.59 L165.80,1131.59 L166.30,1131.58 L166.80,1131.58 L167.30,1131.58 L167.80,1131.58 L168.30,1131.58 L168.80,1131.58 L169.30,1131.58 L169.80,1131.58 L170.30,1131.58 L170.80,1131.57 L171.30,1131.57 L171.80,1131.57 L172.30,1131.57 L172.80,1131.57 L173.30,1131.56 L173.80,1131.56 L174.30,1131.56 L174.80,1131.55 L175.30,1131.55 L175.80,1131.55 L176.30,1131.54 L176.80,1131.54 L177.30,1131.54 L177.80,1131.53 L178.30,1131.53 L178.80,1131.52 L179.30,1131.52 L179.80,1131.51 L180.30,1131.51 L180.80,1131.50 L181.30,1131.50 L181.80,1131.49 L182.30,1131.48 L182.80,1131.48 L183.30,1131.47 L183.80,1131.46 L184.30,1131.46 L184.80,1131.45 L185.30,1131.44 L185.80,1131.43 L186.30,1131.43 L186.80,1131.42 L187.30,1131.41 L187.80,1131.40 L188.30,1131.39 L188.80,1131.38 L189.30,1131.37 L189.80,1131.36 L190.30,1131.35 L190.80,1131.34 L191.30,1131.33 L191.80,1131.32 L192.30,1131.30 L192.80,1131.29 L193.30,1131.28 L193.80,1131.27 L194.30,1131.25 L194.80,1131.24 L195.30,1131.23 L195.80,1131.21 L196.30,1131.20 L196.80,1131.18 L197.30,1131.17 L197.80,1131.15 L198.30,1131.14 L198.80,1131.12 L199.30,1131.10 L199.80,1131.09 L200.30,1131.07 L200.80,1131.05 L201.30,1131.03 L201.80,1131.01 L202.30,1130.99 L202.80,1130.97 L203.30,1130.95 L203.80,1130.93 L204.30,1130.91 L204.80,1130.89 L205.30,1130.87 L205.80,1130.85 L206.30,1130.83 L206.80,1130.80 L207.30,1130.78 L207.80,1130.76 L208.30,1130.73 L208.80,1130.71 L209.30,1130.68 L209.80,1130.66 L210.30,1130.63 L210.80,1130.60 L211.30,1130.58 L211.80,1130.55 L212.30,1130.52 L212.80,1130.49 L213.30,1130.46 L213.80,1130.43 L214.30,1130.40 L214.80,1130.37 L215.30,1130.34 L215.80,1130.31 L216.30,1130.28 L216.80,1130.25 L217.30,1130.21 L217.80,1130.18 L218.30,1130.15 L218.80,1130.11 L219.30,1130.08 L219.80,1130.04 L220.30,1130.00 L220.80,1129.97 L221.30,1129.93 L221.80,1129.89 L222.30,1129.85 L222.80,1129.81 L223.30,1129.77 L223.80,1129.73 L224.30,1129.69 L224.80,1129.65 L225.30,1129.61 L225.80,1129.57 L226.30,1129.52 L226.80,1129.48 L227.30,1129.44 L227.80,1129.39 L228.30,1129.35 L228.80,1129.30 L229.30,1129.25 L229.80,1129.20 L230.30,1129.16 L230.80,1129.11 L231.30,1129.06 L231.80,1129.01 L232.30,1128.96 L232.80,1128.91 L233.30,1128.85 L233.80,1128.80 L234.30,1128.75 L234.80,1128.69 L235.30,1128.64 L235.80,1128.58 L236.30,1128.53 L236.80,1128.47 L237.30,1128.41 L237.80,1128.36 L238.30,1128.30 L238.80,1128.24 L239.30,1128.18 L239.80,1128.12 L240.30,1128.05 L240.80,1127.99 L241.30,1127.93 L241.80,1127.86 L242.30,1127.80 L242.80,1127.73 L243.30,1127.67 L243.80,1127.60 L244.30,1127.53 L244.80,1127.47 L245.30,1127.40 L245.80,1127.33 L246.30,1127.26 L246.80,1127.19 L247.30,1127.11 L247.80,1127.04 L248.30,1126.97 L248.80,1126.89 L249.30,1126.82 L249.80,1126.74 L250.30,1126.66 L250.80,1126.59 L251.30,1126.51 L251.80,1126.43 L252.30,1126.35 L252.80,1126.27 L253.30,1126.19 L253.80,1126.10 L254.30,1126.02 L254.80,1125.94 L255.30,1125.85 L255.80,1125.77 L256.30,1125.68 L256.80,1125.59 L257.30,1125.50 L257.80,1125.41 L258.30,1125.32 L258.80,1125.23 L259.30,1125.13 L259.80,1125.04 L260.30,1124.94 L260.80,1124.85 L261.30,1124.75 L261.80,1124.65 L262.30,1124.55 L262.80,1124.44 L263.30,1124.34 L263.80,1124.23 L264.30,1124.12 L264.80,1124.01 L265.30,1123.90 L265.80,1123.79 L266.30,1123.68 L266.80,1123.56 L267.30,1123.44 L267.80,1123.32 L268.30,1123.20 L268.80,1123.08 L269.30,1122.95 L269.80,1122.82 L270.30,1122.69 L270.80,1122.56 L271.30,1122.43 L271.80,1122.29 L272.30,1122.15 L272.80,1122.01 L273.30,1121.87 L273.80,1121.72 L274.30,1121.57 L274.80,1121.42 L275.30,1121.27 L275.80,1121.11 L276.30,1120.96 L276.80,1120.80 L277.30,1120.63 L277.80,1120.47 L278.30,1120.30 L278.80,1120.13 L279.30,1119.95 L279.80,1119.78 L280.30,1119.60 L280.80,1119.41 L281.30,1119.23 L281.80,1119.04 L282.30,1118.85 L282.80,1118.65 L283.30,1118.45 L283.80,1118.25 L284.30,1118.05 L284.80,1117.84 L285.30,1117.63 L285.80,1117.42 L286.30,1117.20 L286.80,1116.98 L287.30,1116.75 L287.80,1116.53 L288.30,1116.30 L288.80,1116.06 L289.30,1115.82 L289.80,1115.58 L290.30,1115.34 L290.80,1115.09 L291.30,1114.83 L291.80,1114.58 L292.30,1114.32 L292.80,1114.05 L293.30,1113.78 L293.80,1113.51 L294.30,1113.23 L294.80,1112.95 L295.30,1112.67 L295.80,1112.38 L296.30,1112.09 L296.80,1111.79 L297.30,1111.49 L297.80,1111.18 L298.30,1110.87 L298.80,1110.56 L299.30,1110.24 L299.80,1109.92 L300.30,1109.59 L300.80,1109.26 L301.30,1108.92 L301.80,1108.58 L302.30,1108.24 L302.80,1107.89 L303.30,1107.53 L303.80,1107.17 L304.30,1106.81 L304.80,1106.44 L305.30,1106.06 L305.80,1105.69 L306.30,1105.30 L306.80,1104.91 L307.30,1104.52 L307.80,1104.12 L308.30,1103.72 L308.80,1103.31 L309.30,1102.89 L309.80,1102.47 L310.30,1102.05 L310.80,1101.62 L311.30,1101.18 L311.80,1100.74 L312.30,1100.29 L312.80,1099.84 L313.30,1099.38 L313.80,1098.92 L314.30,1098.45 L314.80,1097.98 L315.30,1097.50 L315.80,1097.01 L316.30,1096.52 L316.80,1096.03 L317.30,1095.52 L317.80,1095.02 L318.30,1094.50 L318.80,1093.98 L319.30,1093.45 L319.80,1092.92 L320.30,1092.38 L320.80,1091.84 L321.30,1091.29 L321.80,1090.73 L322.30,1090.17 L322.80,1089.60 L323.30,1089.02 L323.80,1088.44 L324.30,1087.85 L324.80,1087.26 L325.30,1086.66 L325.80,1086.05 L326.30,1085.44 L326.80,1084.82 L327.30,1084.19 L327.80,1083.56 L328.30,1082.92 L328.80,1082.28 L329.30,1081.63 L329.80,1080.97 L330.30,1080.31 L330.80,1079.65 L331.30,1078.98 L331.80,1078.30 L332.30,1077.62 L332.80,1076.93 L333.30,1076.24 L333.80,1075.55 L334.30,1074.85 L334.80,1074.14 L335.30,1073.43 L335.80,1072.72 L336.30,1072.00 L336.80,1071.28 L337.30,1070.55 L337.80,1069.82 L338.30,1069.09 L338.80,1068.35 L339.30,1067.61 L339.80,1066.86 L340.30,1066.11 L340.80,1065.36 L341.30,1064.61 L341.80,1063.85 L342.30,1063.08 L342.80,1062.32 L343.30,1061.55 L343.80,1060.78 L344.30,1060.01 L344.80,1059.23 L345.30,1058.45 L345.80,1057.67 L346.30,1056.89 L346.80,1056.10 L347.30,1055.31 L347.80,1054.52 L348.30,1053.73 L348.80,1052.94 L349.30,1052.14 L349.80,1051.34 L350.30,1050.54 L350.80,1049.74 L351.30,1048.94 L351.80,1048.14 L352.30,1047.33 L352.80,1046.53 L353.30,1045.72 L353.80,1044.91 L354.30,1044.10 L354.80,1043.30 L355.30,1042.49 L355.80,1041.68 L356.30,1040.87 L356.80,1040.06 L357.30,1039.25 L357.80,1038.45 L358.30,1037.64 L358.80,1036.84 L359.30,1036.04 L359.80,1035.25 L360.30,1034.46 L360.80,1033.67 L361.30,1032.88 L361.80,1032.11 L362.30,1031.33 L362.80,1030.56 L363.30,1029.80 L363.80,1029.05 L364.30,1028.30 L364.80,1027.56 L365.30,1026.82 L365.80,1026.10 L366.30,1025.38 L366.80,1024.67 L367.30,1023.97 L367.80,1023.28 L368.30,1022.60 L368.80,1021.93 L369.30,1021.27 L369.80,1020.63 L370.30,1019.99 L370.80,1019.36 L371.30,1018.74 L371.80,1018.13 L372.30,1017.53 L372.80,1016.94 L373.30,1016.36 L373.80,1015.78 L374.30,1015.22 L374.80,1014.67 L375.30,1014.13 L375.80,1013.59 L376.30,1013.07 L376.80,1012.55 L377.30,1012.05 L377.80,1011.55 L378.30,1011.06 L378.80,1010.58 L379.30,1010.11 L379.80,1009.65 L380.30,1009.20 L380.80,1008.75 L381.30,1008.32 L381.80,1007.89 L382.30,1007.47 L382.80,1007.06 L383.30,1006.66 L383.80,1006.27 L384.30,1005.89 L384.80,1005.51 L385.30,1005.14 L385.80,1004.78 L386.30,1004.43 L386.80,1004.09 L387.30,1003.75 L387.80,1003.42 L388.30,1003.10 L388.80,1002.79 L389.30,1002.48 L389.80,1002.19 L390.30,1001.90 L390.80,1001.61 L391.30,1001.34 L391.80,1001.07 L392.30,1000.81 L392.80,1000.56 L393.30,1000.31 L393.80,1000.07 L394.30,999.84 L394.80,999.62 L395.30,999.40 L395.80,999.19 L396.30,998.99 L396.80,998.79 L397.30,998.60 L397.80,998.42 L398.30,998.24 L398.80,998.07 L399.30,997.90 L399.80,997.75 L400.30,997.60 L400.80,997.45 L401.30,997.32 L401.80,997.19 L402.30,997.06 L402.80,996.95 L403.30,996.84 L403.80,996.74 L404.30,996.64 L404.80,996.56 L405.30,996.48 L405.80,996.40 L406.30,996.34 L406.80,996.28 L407.30,996.23 L407.80,996.18 L408.30,996.15 L408.80,996.12 L409.30,996.10 L409.80,996.08 L410.30,996.07 L410.80,996.08 L411.30,996.09 L411.80,996.10 L412.30,996.13 L412.80,996.16 L413.30,996.20 L413.80,996.25 L414.30,996.30 L414.80,996.37 L415.30,996.44 L415.80,996.52 L416.30,996.61 L416.80,996.70 L417.30,996.81 L417.80,996.92 L418.30,997.04 L418.80,997.17 L419.30,997.31 L419.80,997.45 L420.30,997.61 L420.80,997.77 L421.30,997.94 L421.80,998.12 L422.30,998.31 L422.80,998.51 L423.30,998.71 L423.80,998.93 L424.30,999.15 L424.80,999.39 L425.30,999.63 L425.80,999.88 L426.30,1000.14 L426.80,1000.40 L427.30,1000.68 L427.80,1000.97 L428.30,1001.26 L428.80,1001.57 L429.30,1001.88 L429.80,1002.21 L430.30,1002.54 L430.80,1002.88 L431.30,1003.23 L431.80,1003.59 L432.30,1003.96 L432.80,1004.34 L433.30,1004.73 L433.80,1005.12 L434.30,1005.52 L434.80,1005.94 L435.30,1006.36 L435.80,1006.79 L436.30,1007.22 L436.80,1007.67 L437.30,1008.12 L437.80,1008.58 L438.30,1009.04 L438.80,1009.52 L439.30,1010.00 L439.80,1010.49 L440.30,1010.98 L440.80,1011.48 L441.30,1011.99 L441.80,1012.51 L442.30,1013.03 L442.80,1013.56 L443.30,1014.09 L443.80,1014.63 L444.30,1015.17 L444.80,1015.72 L445.30,1016.28 L445.80,1016.84 L446.30,1017.41 L446.80,1017.98 L447.30,1018.56 L447.80,1019.14 L448.30,1019.73 L448.80,1020.32 L449.30,1020.91 L449.80,1021.51 L450.30,1022.12 L450.80,1022.73 L451.30,1023.34 L451.80,1023.96 L452.30,1024.58 L452.80,1025.20 L453.30,1025.83 L453.80,1026.46 L454.30,1027.09 L454.80,1027.73 L455.30,1028.37 L455.80,1029.01 L456.30,1029.65 L456.80,1030.30 L457.30,1030.95 L457.80,1031.60 L458.30,1032.25 L458.80,1032.91 L459.30,1033.57 L459.80,1034.23 L460.30,1034.89 L460.80,1035.55 L461.30,1036.21 L461.80,1036.88 L462.30,1037.54 L462.80,1038.21 L463.30,1038.88 L463.80,1039.54 L464.30,1040.21 L464.80,1040.88 L465.30,1041.55 L465.80,1042.22 L466.30,1042.89 L466.80,1043.56 L467.30,1044.23 L467.80,1044.89 L468.30,1045.56 L468.80,1046.23 L469.30,1046.90 L469.80,1047.56 L470.30,1048.22 L470.80,1048.89 L471.30,1049.55 L471.80,1050.21 L472.30,1050.87 L472.80,1051.52 L473.30,1052.18 L473.80,1052.83 L474.30,1053.48 L474.80,1054.13 L475.30,1054.78 L475.80,1055.42 L476.30,1056.06 L476.80,1056.70 L477.30,1057.33 L477.80,1057.96 L478.30,1058.59 L478.80,1059.22 L479.30,1059.84 L479.80,1060.46 L480.30,1061.07 L480.80,1061.68 L481.30,1062.29 L481.80,1062.89 L482.30,1063.49 L482.80,1064.08 L483.30,1064.67 L483.80,1065.26 L484.30,1065.84 L484.80,1066.41 L485.30,1066.99 L485.80,1067.55 L486.30,1068.12 L486.80,1068.68 L487.30,1069.23 L487.80,1069.79 L488.30,1070.33 L488.80,1070.88 L489.30,1071.42 L489.80,1071.95 L490.30,1072.48 L490.80,1073.01 L491.30,1073.53 L491.80,1074.05 L492.30,1074.57 L492.80,1075.08 L493.30,1075.58 L493.80,1076.09 L494.30,1076.59 L494.80,1077.08 L495.30,1077.57 L495.80,1078.06 L496.30,1078.54 L496.80,1079.02 L497.30,1079.50 L497.80,1079.97 L498.30,1080.43 L498.80,1080.90 L499.30,1081.36 L499.80,1081.81 L500.30,1082.27 L500.80,1082.71 L501.30,1083.16 L501.80,1083.60 L502.30,1084.04 L502.80,1084.47 L503.30,1084.90 L503.80,1085.32 L504.30,1085.75 L504.80,1086.16 L505.30,1086.58 L505.80,1086.99 L506.30,1087.40 L506.80,1087.80 L507.30,1088.20 L507.80,1088.60 L508.30,1088.99 L508.80,1089.38 L509.30,1089.76 L509.80,1090.14 L510.30,1090.52 L510.80,1090.90 L511.30,1091.27 L511.80,1091.63 L512.30,1092.00 L512.80,1092.36 L513.30,1092.72 L513.80,1093.07 L514.30,1093.42 L514.80,1093.77 L515.30,1094.11 L515.80,1094.45 L516.30,1094.78 L516.80,1095.12 L517.30,1095.45 L517.80,1095.77 L518.30,1096.09 L518.80,1096.41 L519.30,1096.73 L519.80,1097.04 L520.30,1097.35 L520.80,1097.66 L521.30,1097.96 L521.80,1098.26 L522.30,1098.55 L522.80,1098.85 L523.30,1099.13 L523.80,1099.42 L524.30,1099.70 L524.80,1099.98 L525.30,1100.26 L525.80,1100.53 L526.30,1100.80 L526.80,1101.07 L527.30,1101.33 L527.80,1101.59 L528.30,1101.85 L528.80,1102.10 L529.30,1102.36 L529.80,1102.60 L530.30,1102.85 L530.80,1103.09 L531.30,1103.33 L531.80,1103.57 L532.30,1103.80 L532.80,1104.03 L533.30,1104.25 L533.80,1104.48 L534.30,1104.70 L534.80,1104.92 L535.30,1105.13 L535.80,1105.34 L536.30,1105.55 L536.80,1105.76 L537.30,1105.96 L537.80,1106.16 L538.30,1106.36 L538.80,1106.55 L539.30,1106.75 L539.80,1106.93 L540.30,1107.12 L540.80,1107.30 L541.30,1107.48 L541.80,1107.66 L542.30,1107.84 L542.80,1108.01 L543.30,1108.18 L543.80,1108.34 L544.30,1108.51 L544.80,1108.67 L545.30,1108.83 L545.80,1108.98 L546.30,1109.13 L546.80,1109.28 L547.30,1109.43 L547.80,1109.58 L548.30,1109.72 L548.80,1109.86 L549.30,1110.00 L549.80,1110.13 L550.30,1110.26 L550.80,1110.39 L551.30,1110.52 L551.80,1110.64 L552.30,1110.76 L552.80,1110.88 L553.30,1111.00 L553.80,1111.11 L554.30,1111.23 L554.80,1111.33 L555.30,1111.44 L555.80,1111.55 L556.30,1111.65 L556.80,1111.75 L557.30,1111.84 L557.80,1111.94 L558.30,1112.03 L558.80,1112.12 L559.30,1112.21 L559.80,1112.29 L560.30,1112.38 L560.80,1112.46 L561.30,1112.53 L561.80,1112.61 L562.30,1112.68 L562.80,1112.75 L563.30,1112.82 L563.80,1112.89 L564.30,1112.95 L564.80,1113.02 L565.30,1113.08 L565.80,1113.14 L566.30,1113.19 L566.80,1113.24 L567.30,1113.30 L567.80,1113.35 L568.30,1113.39 L568.80,1113.44 L569.30,1113.48 L569.80,1113.52 L570.30,1113.56 L570.80,1113.60 L571.30,1113.63 L571.80,1113.66 L572.30,1113.69 L572.80,1113.72 L573.30,1113.75 L573.80,1113.77 L574.30,1113.80 L574.80,1113.82 L575.30,1113.83 L575.80,1113.85 L576.30,1113.87 L576.80,1113.88 L577.30,1113.89 L577.80,1113.90 L578.30,1113.91 L578.80,1113.91 L579.30,1113.91 L579.80,1113.92 L580.30,1113.91 L580.80,1113.91 L581.30,1113.91 L581.80,1113.90 L582.30,1113.90 L582.80,1113.89 L583.30,1113.87 L583.80,1113.86 L584.30,1113.85 L584.80,1113.83 L585.30,1113.81 L585.80,1113.79 L586.30,1113.77 L586.80,1113.75 L587.30,1113.72 L587.80,1113.70 L588.30,1113.67 L588.80,1113.64 L589.30,1113.61 L589.50,1113.59 L589.50,1113.59 L589.75,1113.68 L590.00,1113.74 L590.25,1113.80 L590.50,1113.83 L590.75,1113.85 L591.00,1113.86 L591.25,1113.85 L591.50,1113.83 L591.75,1113.79 L592.00,1113.74 L592.25,1113.67 L592.50,1113.59 L592.75,1113.49 L593.00,1113.38 L593.25,1113.25 L593.50,1113.11 L593.75,1112.96 L594.00,1112.79 L594.25,1112.61 L594.50,1112.41 L594.75,1112.20 L595.00,1111.98 L595.25,1111.74 L595.50,1111.49 L595.75,1111.23 L596.00,1110.95 L596.25,1110.66 L596.50,1110.35 L596.75,1110.04 L597.00,1109.71 L597.25,1109.37 L597.50,1109.01 L597.75,1108.64 L598.00,1108.26 L598.25,1107.87 L598.50,1107.47 L598.75,1107.05 L599.00,1106.62 L599.25,1106.18 L599.50,1105.72 L599.75,1105.26 L600.00,1104.78 L600.25,1104.29 L600.50,1103.79 L600.75,1103.28 L601.00,1102.76 L601.25,1102.22 L601.50,1101.68 L601.75,1101.12 L602.00,1100.55 L602.25,1099.97 L602.50,1099.38 L602.75,1098.78 L603.00,1098.17 L603.25,1097.55 L603.50,1096.91 L603.75,1096.27 L604.00,1095.62 L604.25,1094.95 L604.50,1094.28 L604.75,1093.60 L605.00,1092.90 L605.25,1092.20 L605.50,1091.49 L605.75,1090.76 L606.00,1090.03 L606.25,1089.29 L606.50,1088.54 L606.75,1087.77 L607.00,1087.00 L607.25,1086.22 L607.50,1085.44 L607.75,1084.64 L608.00,1083.83 L608.25,1083.02 L608.50,1082.19 L608.75,1081.36 L609.00,1080.52 L609.25,1079.67 L609.50,1078.82 L609.75,1077.95 L610.00,1077.08 L610.25,1076.19 L610.50,1075.31 L610.75,1074.41 L611.00,1073.50 L611.25,1072.59 L611.50,1071.67 L611.75,1070.74 L612.00,1069.81 L612.25,1068.86 L612.50,1067.91 L612.75,1066.96 L613.00,1065.99 L613.25,1065.02 L613.50,1064.05 L613.75,1063.06 L614.00,1062.07 L614.25,1061.07 L614.50,1060.07 L614.75,1059.06 L615.00,1058.04 L615.25,1057.02 L615.50,1055.99 L615.75,1054.96 L616.00,1053.92 L616.25,1052.87 L616.50,1051.82 L616.75,1050.76 L617.00,1049.70 L617.25,1048.63 L617.50,1047.55 L617.75,1046.47 L618.00,1045.38 L618.25,1044.28 L618.50,1043.18 L618.75,1042.07 L619.00,1040.95 L619.25,1039.82 L619.50,1038.69 L619.75,1037.55 L620.00,1036.40 L620.25,1035.25 L620.50,1034.08 L620.75,1032.91 L621.00,1031.73 L621.25,1030.54 L621.50,1029.34 L621.75,1028.13 L622.00,1026.91 L622.25,1025.68 L622.50,1024.45 L622.75,1023.20 L623.00,1021.95 L623.25,1020.68 L623.50,1019.41 L623.75,1018.12 L624.00,1016.83 L624.25,1015.52 L624.50,1014.20 L624.75,1012.88 L625.00,1011.54 L625.25,1010.19 L625.50,1008.83 L625.75,1007.45 L626.00,1006.07 L626.25,1004.68 L626.50,1003.27 L626.75,1001.85 L627.00,1000.42 L627.25,998.97 L627.50,997.52 L627.75,996.05 L628.00,994.57 L628.25,993.07 L628.50,991.56 L628.75,990.04 L629.00,988.51 L629.25,986.96 L629.50,985.40 L629.75,983.82 L630.00,982.23 L630.25,980.63 L630.50,979.02 L630.75,977.39 L631.00,975.75 L631.25,974.10 L631.50,972.43 L631.75,970.76 L632.00,969.07 L632.25,967.37 L632.50,965.67 L632.75,963.95 L633.00,962.22 L633.25,960.48 L633.50,958.73 L633.75,956.97 L634.00,955.20 L634.25,953.42 L634.50,951.64 L634.75,949.84 L635.00,948.04 L635.25,946.23 L635.50,944.41 L635.75,942.59 L636.00,940.76 L636.25,938.92 L636.50,937.07 L636.75,935.22 L637.00,933.36 L637.25,931.49 L637.50,929.62 L637.75,927.75 L638.00,925.87 L638.25,923.98 L638.50,922.09 L638.75,920.20 L639.00,918.30 L639.25,916.40 L639.50,914.49 L639.75,912.59 L640.00,910.67 L640.25,908.76 L640.50,906.84 L640.75,904.92 L641.00,903.00 L641.25,901.08 L641.50,899.16 L641.75,897.23 L642.00,895.31 L642.25,893.38 L642.50,891.45 L642.75,889.52 L643.00,887.60 L643.25,885.67 L643.50,883.74 L643.75,881.81 L644.00,879.89 L644.25,877.96 L644.50,876.04 L644.75,874.12 L645.00,872.20 L645.25,870.28 L645.50,868.36 L645.75,866.45 L646.00,864.54 L646.25,862.63 L646.50,860.72 L646.75,858.82 L647.00,856.92 L647.25,855.02 L647.50,853.13 L647.75,851.25 L648.00,849.36 L648.25,847.49 L648.50,845.61 L648.75,843.74 L649.00,841.88 L649.25,840.02 L649.50,838.17 L649.75,836.33 L650.00,834.49 L650.25,832.65 L650.50,830.83 L650.75,829.01 L651.00,827.20 L651.25,825.39 L651.50,823.60 L651.75,821.81 L652.00,820.03 L652.25,818.26 L652.50,816.50 L652.75,814.74 L653.00,813.00 L653.25,811.27 L653.50,809.55 L653.75,807.85 L654.00,806.15 L654.25,804.47 L654.50,802.79 L654.75,801.14 L655.00,799.49 L655.25,797.86 L655.50,796.25 L655.75,794.65 L656.00,793.06 L656.25,791.49 L656.50,789.93 L656.75,788.40 L657.00,786.87 L657.25,785.37 L657.50,783.88 L657.75,782.41 L658.00,780.96 L658.25,779.53 L658.50,778.12 L658.75,776.72 L659.00,775.35 L659.25,774.00 L659.50,772.67 L659.75,771.35 L660.00,770.07 L660.25,768.80 L660.50,767.55 L660.75,766.33 L661.00,765.13 L661.25,763.95 L661.50,762.80 L661.75,761.67 L662.00,760.57 L662.25,759.48 L662.50,758.42 L662.75,757.39 L663.00,756.37 L663.25,755.38 L663.50,754.42 L663.75,753.48 L664.00,752.56 L664.25,751.67 L664.50,750.80 L664.75,749.95 L665.00,749.13 L665.25,748.33 L665.50,747.55 L665.75,746.80 L666.00,746.08 L666.25,745.38 L666.50,744.70 L666.75,744.04 L667.00,743.42 L667.25,742.81 L667.50,742.23 L667.75,741.68 L668.00,741.15 L668.25,740.64 L668.50,740.16 L668.75,739.70 L669.00,739.27 L669.25,738.86 L669.50,738.48 L669.75,738.12 L670.00,737.79 L670.25,737.48 L670.50,737.20 L670.75,736.95 L671.00,736.72 L671.25,736.51 L671.50,736.33 L671.75,736.17 L672.00,736.04 L672.25,735.94 L672.50,735.86 L672.75,735.81 L673.00,735.78 L673.25,735.78 L673.50,735.80 L711.3,735.8" stroke="#2222d0" stroke-width="3.6" fill="none" stroke-linejoin="round"/>
<path d="M130.80,1131.80v-7 M130.80,693.80v7 M324.30,1131.80v-7 M324.30,693.80v7 M517.80,1131.80v-7 M517.80,693.80v7 M711.30,1131.80v-7 M711.30,693.80v7 M130.80,693.80h7 M711.30,693.80h-7 M130.80,803.30h7 M711.30,803.30h-7 M130.80,912.80h7 M711.30,912.80h-7 M130.80,1022.30h7 M711.30,1022.30h-7 M130.80,1131.80h7 M711.30,1131.80h-7" stroke="#444" stroke-width="1.3" fill="none"/>
<rect x="130.80" y="693.80" width="580.50" height="438.00" stroke="#444" stroke-width="1.6" fill="none"/>
<text transform="translate(74.06,710.67) scale(0.9771,1)" font-family="'Liberation Serif', 'Times New Roman', serif" font-weight="normal" font-size="33.49" fill="#000" >200</text>
<text transform="translate(74.29,814.89) scale(1.0098,1)" font-family="'Liberation Serif', 'Times New Roman', serif" font-weight="normal" font-size="31.71" fill="#000" >150</text>
<text transform="translate(74.23,923.69) scale(1.0304,1)" font-family="'Liberation Serif', 'Times New Roman', serif" font-weight="normal" font-size="31.71" fill="#000" >100</text>
<text transform="translate(87.89,1032.59) scale(1.0835,1)" font-family="'Liberation Serif', 'Times New Roman', serif" font-weight="normal" font-size="31.86" fill="#000" >50</text>
<text transform="translate(107.12,1143.69) scale(0.9500,1)" font-family="'Liberation Serif', 'Times New Roman', serif" font-weight="normal" font-size="31.86" fill="#000" >0</text>
<text transform="translate(125.07,1168.66) scale(0.9300,1)" font-family="'Liberation Serif', 'Times New Roman', serif" font-weight="normal" font-size="34.97" fill="#000" >0</text>
<text transform="translate(317.13,1168.65) scale(0.9300,1)" font-family="'Liberation Serif', 'Times New Roman', serif" font-weight="normal" font-size="35.51" fill="#000" >5</text>
<text transform="translate(504.78,1168.56) scale(0.9300,1)" font-family="'Liberation Serif', 'Times New Roman', serif" font-weight="normal" font-size="35.27" fill="#000" >10</text>
<text transform="translate(687.17,1168.55) scale(0.9300,1)" font-family="'Liberation Serif', 'Times New Roman', serif" font-weight="normal" font-size="35.53" fill="#000" >15</text>
<text transform="translate(345.44,1210.30) scale(1.0116,1)" font-family="'Liberation Serif', 'Times New Roman', serif" font-weight="normal" font-size="41.68" fill="#000" stroke="#000" stroke-width="0.8" stroke-linejoin="round" >Time (s)</text>
<text transform="translate(60.50,1065.64) rotate(-90) scale(1.0015,1)" font-family="'Liberation Serif', 'Times New Roman', serif" font-weight="normal" font-size="42.90" fill="#000" stroke="#000" stroke-width="0.8" stroke-linejoin="round">Heading angle</text>
<text transform="translate(56.80,802.66) rotate(-90) scale(0.9474,1)" font-family="'Liberation Serif', 'Times New Roman', serif" font-weight="normal" font-size="37.40" fill="#000" stroke="#000" stroke-width="0.5" stroke-linejoin="round">(</text>
<text transform="translate(54.80,786.44) rotate(-90) scale(0.8750,1)" font-family="'Liberation Serif', 'Times New Roman', serif" font-weight="normal" font-size="34.30" fill="#000" stroke="#000" stroke-width="0.5" stroke-linejoin="round">°</text>
<text transform="translate(56.80,772.60) rotate(-90) scale(1.0827,1)" font-family="'Liberation Serif', 'Times New Roman', serif" font-weight="normal" font-size="37.40" fill="#000" stroke="#000" stroke-width="0.5" stroke-linejoin="round">)</text>
<path d="M879.70,687.40V1131.80 M983.08,687.40V1131.80 M1086.46,687.40V1131.80 M1189.84,687.40V1131.80 M1293.22,687.40V1131.80 M1396.60,687.40V1131.80 M856.00,721.20H1447.60 M856.00,789.84H1447.60 M856.00,858.48H1447.60 M856.00,927.12H1447.60 M856.00,995.76H1447.60 M856.00,1064.40H1447.60" stroke="#d8d8d8" stroke-width="1.1" fill="none"/>
<path d="M879.80,1064.40 L881.24,1064.33 L882.69,1064.26 L884.13,1064.19 L885.59,1064.13 L887.04,1064.07 L888.50,1064.01 L889.96,1063.96 L891.43,1063.91 L892.90,1063.86 L894.37,1063.82 L895.85,1063.78 L897.33,1063.74 L898.81,1063.70 L900.29,1063.67 L901.78,1063.63 L903.27,1063.60 L904.76,1063.57 L906.25,1063.54 L907.75,1063.51 L909.25,1063.48 L910.75,1063.46 L912.25,1063.43 L913.76,1063.40 L915.26,1063.37 L916.77,1063.35 L918.28,1063.32 L919.79,1063.29 L921.31,1063.26 L922.82,1063.23 L924.33,1063.19 L925.85,1063.16 L927.37,1063.12 L928.89,1063.09 L930.40,1063.05 L931.92,1063.00 L933.44,1062.96 L934.97,1062.91 L936.49,1062.86 L938.01,1062.80 L939.53,1062.75 L941.05,1062.69 L942.57,1062.62 L944.10,1062.55 L945.62,1062.48 L947.14,1062.40 L948.66,1062.32 L950.18,1062.23 L951.70,1062.14 L953.22,1062.04 L954.74,1061.94 L956.26,1061.83 L957.78,1061.72 L959.29,1061.60 L960.81,1061.47 L962.32,1061.34 L963.83,1061.20 L965.34,1061.05 L966.85,1060.90 L968.36,1060.74 L969.87,1060.57 L971.37,1060.39 L972.87,1060.21 L974.37,1060.02 L975.87,1059.82 L977.37,1059.61 L978.86,1059.39 L980.35,1059.17 L981.84,1058.93 L983.33,1058.69 L984.81,1058.43 L986.30,1058.17 L987.77,1057.90 L989.25,1057.61 L990.72,1057.32 L992.19,1057.01 L993.66,1056.70 L995.12,1056.37 L996.58,1056.04 L998.03,1055.69 L999.48,1055.33 L1000.93,1054.96 L1002.38,1054.57 L1003.82,1054.18 L1005.25,1053.77 L1006.69,1053.35 L1008.11,1052.92 L1009.54,1052.47 L1010.96,1052.01 L1012.37,1051.54 L1013.78,1051.05 L1015.19,1050.55 L1016.59,1050.04 L1017.98,1049.52 L1019.37,1048.98 L1020.76,1048.42 L1022.14,1047.85 L1023.51,1047.27 L1024.88,1046.68 L1026.24,1046.07 L1027.59,1045.45 L1028.94,1044.82 L1030.28,1044.17 L1031.61,1043.51 L1032.94,1042.84 L1034.26,1042.15 L1035.57,1041.45 L1036.87,1040.73 L1038.17,1040.01 L1039.46,1039.27 L1040.74,1038.51 L1042.01,1037.75 L1043.27,1036.97 L1044.53,1036.17 L1045.77,1035.37 L1047.01,1034.55 L1048.23,1033.72 L1049.45,1032.87 L1050.65,1032.01 L1051.85,1031.14 L1053.04,1030.26 L1054.21,1029.36 L1055.38,1028.45 L1056.53,1027.53 L1057.68,1026.59 L1058.81,1025.64 L1059.93,1024.68 L1061.04,1023.71 L1062.14,1022.72 L1063.23,1021.72 L1064.30,1020.71 L1065.36,1019.68 L1066.41,1018.64 L1067.45,1017.59 L1068.48,1016.53 L1069.49,1015.45 L1070.49,1014.36 L1071.47,1013.26 L1072.44,1012.15 L1073.40,1011.02 L1074.35,1009.88 L1075.28,1008.73 L1076.19,1007.57 L1077.09,1006.39 L1077.98,1005.20 L1078.85,1004.00 L1079.71,1002.79 L1080.55,1001.56 L1081.38,1000.32 L1082.19,999.07 L1082.99,997.81 L1083.77,996.54 L1084.54,995.26 L1085.30,993.96 L1086.04,992.66 L1086.78,991.35 L1087.50,990.03 L1088.21,988.70 L1088.90,987.36 L1089.59,986.02 L1090.27,984.67 L1090.93,983.31 L1091.59,981.94 L1092.24,980.57 L1092.87,979.20 L1093.50,977.82 L1094.12,976.43 L1094.74,975.04 L1095.34,973.65 L1095.94,972.25 L1096.54,970.85 L1097.12,969.45 L1097.70,968.04 L1098.28,966.64 L1098.85,965.23 L1099.42,963.82 L1099.98,962.41 L1100.53,961.00 L1101.09,959.59 L1101.64,958.19 L1102.19,956.78 L1102.73,955.38 L1103.28,953.97 L1103.82,952.57 L1104.36,951.18 L1104.90,949.78 L1105.44,948.39 L1105.98,947.00 L1106.52,945.62 L1107.06,944.24 L1107.60,942.86 L1108.13,941.48 L1108.67,940.11 L1109.21,938.73 L1109.75,937.36 L1110.29,935.99 L1110.83,934.62 L1111.37,933.25 L1111.91,931.88 L1112.45,930.51 L1112.99,929.14 L1113.53,927.77 L1114.08,926.39 L1114.62,925.02 L1115.17,923.64 L1115.71,922.27 L1116.26,920.89 L1116.81,919.50 L1117.36,918.12 L1117.91,916.73 L1118.47,915.34 L1119.02,913.94 L1119.58,912.54 L1120.14,911.14 L1120.70,909.74 L1121.27,908.33 L1121.83,906.92 L1122.40,905.51 L1122.98,904.10 L1123.55,902.69 L1124.13,901.28 L1124.72,899.87 L1125.30,898.45 L1125.90,897.04 L1126.49,895.63 L1127.09,894.22 L1127.70,892.81 L1128.31,891.40 L1128.92,889.99 L1129.54,888.58 L1130.16,887.18 L1130.80,885.78 L1131.43,884.38 L1132.07,882.99 L1132.72,881.60 L1133.38,880.21 L1134.04,878.83 L1134.71,877.45 L1135.38,876.08 L1136.06,874.71 L1136.75,873.35 L1137.45,871.99 L1138.15,870.64 L1138.87,869.29 L1139.59,867.95 L1140.32,866.62 L1141.05,865.30 L1141.80,863.98 L1142.55,862.67 L1143.32,861.37 L1144.09,860.08 L1144.87,858.79 L1145.66,857.52 L1146.47,856.25 L1147.28,854.99 L1148.10,853.75 L1148.93,852.51 L1149.77,851.29 L1150.63,850.07 L1151.49,848.87 L1152.37,847.67 L1153.25,846.49 L1154.15,845.32 L1155.05,844.16 L1155.97,843.00 L1156.89,841.86 L1157.83,840.73 L1158.78,839.61 L1159.73,838.51 L1160.70,837.41 L1161.67,836.32 L1162.66,835.24 L1163.65,834.17 L1164.66,833.11 L1165.67,832.06 L1166.69,831.03 L1167.73,830.00 L1168.77,828.98 L1169.82,827.97 L1170.88,826.98 L1171.95,825.99 L1173.02,825.01 L1174.11,824.04 L1175.20,823.08 L1176.31,822.13 L1177.42,821.19 L1178.54,820.26 L1179.66,819.34 L1180.80,818.43 L1181.94,817.53 L1183.10,816.63 L1184.26,815.75 L1185.42,814.88 L1186.60,814.01 L1187.78,813.16 L1188.97,812.31 L1190.17,811.47 L1191.38,810.65 L1192.59,809.83 L1193.81,809.02 L1195.04,808.21 L1196.27,807.42 L1197.51,806.64 L1198.76,805.86 L1200.02,805.10 L1201.28,804.34 L1202.55,803.59 L1203.82,802.85 L1205.11,802.12 L1206.39,801.40 L1207.69,800.68 L1208.99,799.98 L1210.29,799.28 L1211.61,798.59 L1212.93,797.91 L1214.25,797.24 L1215.58,796.57 L1216.92,795.91 L1218.26,795.27 L1219.60,794.63 L1220.96,793.99 L1222.32,793.37 L1223.68,792.75 L1225.05,792.14 L1226.42,791.54 L1227.80,790.95 L1229.18,790.37 L1230.57,789.79 L1231.96,789.22 L1233.36,788.66 L1234.76,788.10 L1236.17,787.55 L1237.58,787.01 L1239.00,786.48 L1240.42,785.96 L1241.84,785.44 L1243.27,784.93 L1244.70,784.43 L1246.13,783.93 L1247.57,783.44 L1249.02,782.96 L1250.46,782.49 L1251.91,782.02 L1253.37,781.56 L1254.83,781.10 L1256.29,780.66 L1257.75,780.22 L1259.22,779.78 L1260.69,779.36 L1262.16,778.94 L1263.64,778.53 L1265.11,778.12 L1266.59,777.72 L1268.08,777.33 L1269.56,776.94 L1271.05,776.56 L1272.54,776.18 L1274.04,775.82 L1275.53,775.46 L1277.03,775.10 L1278.53,774.75 L1280.03,774.41 L1281.54,774.07 L1283.04,773.74 L1284.55,773.42 L1286.06,773.10 L1287.57,772.79 L1289.08,772.48 L1290.59,772.18 L1292.10,771.88 L1293.62,771.59 L1295.14,771.31 L1296.65,771.03 L1298.17,770.76 L1299.69,770.49 L1301.21,770.23 L1302.73,769.98 L1304.25,769.72 L1305.77,769.48 L1307.29,769.24 L1308.81,769.01 L1310.34,768.78 L1311.86,768.55 L1313.38,768.33 L1314.90,768.11 L1316.42,767.90 L1317.94,767.68 L1319.45,767.47 L1320.96,767.26 L1322.48,767.04 L1323.98,766.83 L1325.49,766.61 L1326.99,766.39 L1328.48,766.16 L1329.97,765.93 L1331.46,765.70 L1332.94,765.45 L1334.41,765.20 L1335.88,764.94 L1337.34,764.68 L1338.80,764.40 L1340.24,764.11 L1341.68,763.82" stroke="#c41e3a" stroke-width="4.6" fill="none" stroke-dasharray="20 16.5"/>
<path d="M879.80,1064.40 L881.24,1064.33 L882.69,1064.26 L884.13,1064.19 L885.59,1064.13 L887.04,1064.07 L888.50,1064.01 L889.96,1063.96 L891.43,1063.91 L892.90,1063.86 L894.37,1063.82 L895.85,1063.78 L897.33,1063.74 L898.81,1063.70 L900.29,1063.67 L901.78,1063.63 L903.27,1063.60 L904.76,1063.57 L906.25,1063.54 L907.75,1063.51 L909.25,1063.48 L910.75,1063.46 L912.25,1063.43 L913.76,1063.40 L915.26,1063.37 L916.77,1063.35 L918.28,1063.32 L919.79,1063.29 L921.31,1063.26 L922.82,1063.23 L924.33,1063.19 L925.85,1063.16 L927.37,1063.12 L928.89,1063.09 L930.40,1063.05 L931.92,1063.00 L933.44,1062.96 L934.97,1062.91 L936.49,1062.86 L938.01,1062.80 L939.53,1062.75 L941.05,1062.69 L942.57,1062.62 L944.10,1062.55 L945.62,1062.48 L947.14,1062.40 L948.66,1062.32 L950.18,1062.23 L951.70,1062.14 L953.22,1062.04 L954.74,1061.94 L956.26,1061.83 L957.78,1061.72 L959.29,1061.60 L960.81,1061.47 L962.32,1061.34 L963.83,1061.20 L965.34,1061.05 L966.85,1060.90 L968.36,1060.74 L969.87,1060.57 L971.37,1060.39 L972.87,1060.21 L974.37,1060.02 L975.87,1059.82 L977.37,1059.61 L978.86,1059.39 L980.35,1059.17 L981.84,1058.93 L983.33,1058.69 L984.81,1058.43 L986.30,1058.17 L987.77,1057.90 L989.25,1057.61 L990.72,1057.32 L992.19,1057.01 L993.66,1056.70 L995.12,1056.37 L996.58,1056.04 L998.03,1055.69 L999.48,1055.33 L1000.93,1054.96 L1002.38,1054.57 L1003.82,1054.18 L1005.25,1053.77 L1006.69,1053.35 L1008.11,1052.92 L1009.54,1052.47 L1010.96,1052.01 L1012.37,1051.54 L1013.78,1051.05 L1015.19,1050.55 L1016.59,1050.04 L1017.98,1049.52 L1019.37,1048.98 L1020.76,1048.42 L1022.14,1047.85 L1023.51,1047.27 L1024.88,1046.68 L1026.24,1046.07 L1027.59,1045.45 L1028.94,1044.82 L1030.28,1044.17 L1031.61,1043.51 L1032.94,1042.84 L1034.26,1042.15 L1035.57,1041.45 L1036.87,1040.73 L1038.17,1040.01 L1039.46,1039.27 L1040.74,1038.51 L1042.01,1037.75 L1043.27,1036.97 L1044.53,1036.17 L1045.77,1035.37 L1047.01,1034.55 L1048.23,1033.72 L1049.45,1032.87 L1050.65,1032.01 L1051.85,1031.14 L1053.04,1030.26 L1054.21,1029.36 L1055.38,1028.45 L1056.53,1027.53 L1057.68,1026.59 L1058.81,1025.64 L1059.93,1024.68 L1061.04,1023.71 L1062.14,1022.72 L1063.23,1021.72 L1064.30,1020.71 L1065.36,1019.68 L1066.41,1018.64 L1067.45,1017.59 L1068.48,1016.53 L1069.49,1015.45 L1070.49,1014.36 L1071.47,1013.26 L1072.44,1012.15 L1073.40,1011.02 L1074.35,1009.88 L1075.28,1008.73 L1076.19,1007.57 L1077.09,1006.39 L1077.98,1005.20 L1078.85,1004.00 L1079.71,1002.79 L1080.55,1001.56 L1081.38,1000.32 L1082.19,999.07 L1082.99,997.81 L1083.77,996.54 L1084.54,995.26 L1085.30,993.96 L1086.04,992.66 L1086.78,991.35 L1087.50,990.03 L1088.21,988.70 L1088.90,987.36 L1089.59,986.02 L1090.27,984.67 L1090.93,983.31 L1091.59,981.94 L1092.24,980.57 L1092.87,979.20 L1093.50,977.82 L1094.12,976.43 L1094.74,975.04 L1095.34,973.65 L1095.94,972.25 L1096.54,970.85 L1097.12,969.45 L1097.70,968.04 L1098.28,966.64 L1098.85,965.23 L1099.42,963.82 L1099.98,962.41 L1100.53,961.00 L1101.09,959.59 L1101.64,958.19 L1102.19,956.78 L1102.73,955.38 L1103.28,953.97 L1103.82,952.57 L1104.36,951.18 L1104.90,949.78 L1105.44,948.39 L1105.98,947.00 L1106.52,945.62 L1107.06,944.24 L1107.60,942.86 L1108.13,941.48 L1108.67,940.11 L1109.21,938.73 L1109.75,937.36 L1110.29,935.99 L1110.83,934.62 L1111.37,933.25 L1111.91,931.88 L1112.45,930.51 L1112.99,929.14 L1113.53,927.77 L1114.08,926.39 L1114.62,925.02 L1115.17,923.64 L1115.71,922.27 L1116.26,920.89 L1116.81,919.50 L1117.36,918.12 L1117.91,916.73 L1118.47,915.34 L1119.02,913.94 L1119.58,912.54 L1120.14,911.14 L1120.70,909.74 L1121.27,908.33 L1121.83,906.92 L1122.40,905.51 L1122.98,904.10 L1123.55,902.69 L1124.13,901.28 L1124.72,899.87 L1125.30,898.45 L1125.90,897.04 L1126.49,895.63 L1127.09,894.22 L1127.70,892.81 L1128.31,891.40 L1128.92,889.99 L1129.54,888.58 L1130.16,887.18 L1130.80,885.78 L1131.43,884.38 L1132.07,882.99 L1132.72,881.60 L1133.38,880.21 L1134.04,878.83 L1134.71,877.45 L1135.38,876.08 L1136.06,874.71 L1136.75,873.35 L1137.45,871.99 L1138.15,870.64 L1138.87,869.29 L1139.59,867.95 L1140.32,866.62 L1141.05,865.30 L1141.80,863.98 L1142.55,862.67 L1143.32,861.37 L1144.09,860.08 L1144.87,858.79 L1145.66,857.52 L1146.47,856.25 L1147.28,854.99 L1148.10,853.75 L1148.93,852.51 L1149.77,851.29 L1150.63,850.07 L1151.49,848.87 L1152.37,847.67 L1153.25,846.49 L1154.15,845.32 L1155.05,844.16 L1155.97,843.00 L1156.89,841.86 L1157.83,840.73 L1158.78,839.61 L1159.73,838.51 L1160.70,837.41 L1161.67,836.32 L1162.66,835.24 L1163.65,834.17 L1164.66,833.11 L1165.67,832.06 L1166.69,831.03 L1167.73,830.00 L1168.77,828.98 L1169.82,827.97 L1170.88,826.98 L1171.95,825.99 L1173.02,825.01 L1174.11,824.04 L1175.20,823.08 L1176.31,822.13 L1177.42,821.19 L1178.54,820.26 L1179.66,819.34 L1180.80,818.43 L1181.94,817.53 L1183.10,816.63 L1184.26,815.75 L1185.42,814.88 L1186.60,814.01 L1187.78,813.16 L1188.97,812.31 L1190.17,811.47 L1191.38,810.65 L1192.59,809.83 L1193.81,809.02 L1195.04,808.21 L1196.27,807.42 L1197.51,806.64 L1198.76,805.86 L1200.02,805.10 L1201.28,804.34 L1202.55,803.59 L1203.82,802.85 L1205.11,802.12 L1206.39,801.40 L1207.69,800.68 L1208.99,799.98 L1210.29,799.28 L1211.61,798.59 L1212.93,797.91 L1214.25,797.24 L1215.58,796.57 L1216.92,795.91 L1218.26,795.27 L1219.60,794.63 L1220.96,793.99 L1222.32,793.37 L1223.68,792.75 L1225.05,792.14 L1226.42,791.54 L1227.80,790.95 L1229.18,790.37 L1230.57,789.79 L1231.96,789.22 L1233.36,788.66 L1234.76,788.10 L1236.17,787.55 L1237.58,787.01 L1239.00,786.48 L1240.42,785.96 L1241.84,785.44 L1243.27,784.93 L1244.70,784.43 L1246.13,783.93 L1247.57,783.44 L1249.02,782.96 L1250.46,782.49 L1251.91,782.02 L1253.37,781.56 L1254.83,781.10 L1256.29,780.66 L1257.75,780.22 L1259.22,779.78 L1260.69,779.36 L1262.16,778.94 L1263.64,778.53 L1265.11,778.12 L1266.59,777.72 L1268.08,777.33 L1269.56,776.94 L1271.05,776.56 L1272.54,776.18 L1274.04,775.82 L1275.53,775.46 L1277.03,775.10 L1278.53,774.75 L1280.03,774.41 L1281.54,774.07 L1283.04,773.74 L1284.55,773.42 L1286.06,773.10 L1287.57,772.79 L1289.08,772.48 L1290.59,772.18 L1292.10,771.88 L1293.62,771.59 L1295.14,771.31 L1296.65,771.03 L1298.17,770.76 L1299.69,770.49 L1301.21,770.23 L1302.73,769.98 L1304.25,769.72 L1305.77,769.48 L1307.29,769.24 L1308.81,769.01 L1310.34,768.78 L1311.86,768.55 L1313.38,768.33 L1314.90,768.11 L1316.42,767.90 L1317.94,767.68 L1319.45,767.47 L1320.96,767.26 L1322.48,767.04 L1323.98,766.83 L1325.49,766.61 L1326.99,766.39 L1328.48,766.16 L1329.97,765.93 L1331.46,765.70 L1332.94,765.45 L1334.41,765.20 L1335.88,764.94 L1337.34,764.68 L1338.80,764.40 L1340.24,764.11 L1341.68,763.82 L1343.11,763.50 L1344.54,763.18 L1345.95,762.84 L1347.35,762.49 L1348.75,762.13 L1350.13,761.74 L1351.51,761.35 L1352.87,760.93 L1354.22,760.49 L1355.56,760.04 L1356.89,759.56 L1358.20,759.07 L1359.51,758.55 L1360.80,758.01 L1362.07,757.45 L1363.33,756.86 L1364.58,756.25 L1365.81,755.61 L1367.03,754.95 L1368.23,754.26 L1369.42,753.54 L1370.59,752.80 L1371.74,752.02 L1372.88,751.21 L1374.00,750.37 L1375.10,749.50 L1376.18,748.60 L1377.25,747.67 L1378.29,746.70 L1379.30,745.69 L1380.29,744.66 L1381.26,743.58 L1382.20,742.48 L1383.11,741.33 L1383.98,740.15 L1384.83,738.94 L1385.64,737.68 L1386.42,736.39 L1387.16,735.06 L1387.87,733.70 L1388.53,732.29 L1389.15,730.84 L1389.73,729.35 L1390.27,727.83 L1390.76,726.26 L1391.21,724.65 L1391.61,723.00" stroke="#2828dc" stroke-width="3.0" fill="none"/>
<circle cx="879.8" cy="1064.4" r="8" stroke="#e020e0" stroke-width="1.5" fill="none"/>
<path d="M879.80,1056.40L879.80,1072.40M874.14,1058.74L885.46,1070.06M871.80,1064.40L887.80,1064.40M874.14,1070.06L885.46,1058.74" stroke="#e01010" stroke-width="1.3" fill="none"/>
<path d="M1095.60,1056.40L1095.60,1072.40M1089.94,1058.74L1101.26,1070.06M1087.60,1064.40L1103.60,1064.40M1089.94,1070.06L1101.26,1058.74" stroke="#e01010" stroke-width="1.3" fill="none"/>
<path d="M1129.30,793.20L1129.30,809.20M1123.64,795.54L1134.96,806.86M1121.30,801.20L1137.30,801.20M1123.64,806.86L1134.96,795.54" stroke="#e01010" stroke-width="1.3" fill="none"/>
<path d="M1341.70,756.10L1341.70,772.10M1336.04,758.44L1347.36,769.76M1333.70,764.10L1349.70,764.10M1336.04,769.76L1347.36,758.44" stroke="#e01010" stroke-width="1.3" fill="none"/>
<path d="M1380.80,708.00L1391.40,718.60M1380.80,718.60L1391.40,708.00" stroke="#222" stroke-width="1.2" fill="none"/>
<path d="M1402.30,708.30L1412.90,718.90M1402.30,718.90L1412.90,708.30" stroke="#222" stroke-width="1.2" fill="none"/>
<path d="M1380.80,722.30L1391.40,732.90M1380.80,732.90L1391.40,722.30" stroke="#222" stroke-width="1.2" fill="none"/>
<path d="M879.70,1131.80v-7 M879.70,687.40v7 M983.08,1131.80v-7 M983.08,687.40v7 M1086.46,1131.80v-7 M1086.46,687.40v7 M1189.84,1131.80v-7 M1189.84,687.40v7 M1293.22,1131.80v-7 M1293.22,687.40v7 M1396.60,1131.80v-7 M1396.60,687.40v7 M856.00,721.20h7 M1447.60,721.20h-7 M856.00,789.84h7 M1447.60,789.84h-7 M856.00,858.48h7 M1447.60,858.48h-7 M856.00,927.12h7 M1447.60,927.12h-7 M856.00,995.76h7 M1447.60,995.76h-7 M856.00,1064.40h7 M1447.60,1064.40h-7" stroke="#444" stroke-width="1.3" fill="none"/>
<rect x="856.00" y="687.40" width="591.60" height="444.40" stroke="#444" stroke-width="1.6" fill="none"/>
<circle cx="1390.3" cy="720.1" r="7.8" fill="#fbfbe6"/>
<circle cx="1390.3" cy="720.1" r="4.9" fill="#222"/>
<rect x="1393.1" y="723.6" width="127" height="91.8" rx="4" ry="4" fill="#f8f8fd"/>
<path d="M1520,727.6 Q1520,723.6 1516,723.6 H1397.1 Q1393.1,723.6 1393.1,727.6 V811.4 Q1393.1,815.4 1397.1,815.4 H1516 Q1520,815.4 1520,811.4" fill="none" stroke="#8a8a8a" stroke-width="1.8"/>
<text transform="translate(1401.50,762.00) scale(0.9738,1)" font-family="'Liberation Serif', 'Times New Roman', serif" font-weight="normal" font-size="32.52" fill="#000" >X</text>
<text transform="translate(1436.31,761.80) scale(0.9158,1)" font-family="'Liberation Serif', 'Times New Roman', serif" font-weight="normal" font-size="32.16" fill="#1f8fdc" >-1.196</text>
<text transform="translate(1401.85,798.60) scale(0.9689,1)" font-family="'Liberation Serif', 'Times New Roman', serif" font-weight="normal" font-size="32.52" fill="#000" >Y</text>
<text transform="translate(1436.69,798.80) scale(0.9065,1)" font-family="'Liberation Serif', 'Times New Roman', serif" font-weight="normal" font-size="32.16" fill="#1f8fdc" >0.0751</text>
<text transform="translate(828.70,729.40) scale(1.1153,1)" font-family="'Liberation Serif', 'Times New Roman', serif" font-weight="normal" font-size="30.68" fill="#000" >0</text>
<text transform="translate(804.06,799.70) scale(1.0004,1)" font-family="'Liberation Serif', 'Times New Roman', serif" font-weight="normal" font-size="30.68" fill="#000" >-10</text>
<text transform="translate(803.36,870.00) scale(1.0053,1)" font-family="'Liberation Serif', 'Times New Roman', serif" font-weight="normal" font-size="30.53" fill="#000" >-20</text>
<text transform="translate(806.17,941.01) scale(1.0172,1)" font-family="'Liberation Serif', 'Times New Roman', serif" font-weight="normal" font-size="29.93" fill="#000" >-30</text>
<text transform="translate(804.30,1008.11) scale(1.0083,1)" font-family="'Liberation Serif', 'Times New Roman', serif" font-weight="normal" font-size="29.49" fill="#000" >-40</text>
<text transform="translate(803.30,1074.32) scale(1.0237,1)" font-family="'Liberation Serif', 'Times New Roman', serif" font-weight="normal" font-size="29.05" fill="#000" >-50</text>
<text transform="translate(804.30,1144.32) scale(1.0237,1)" font-family="'Liberation Serif', 'Times New Roman', serif" font-weight="normal" font-size="29.05" fill="#000" >-60</text>
<text transform="translate(848.68,1165.08) scale(0.9368,1)" font-family="'Liberation Serif', 'Times New Roman', serif" font-weight="normal" font-size="32.31" fill="#000" >-100</text>
<text transform="translate(957.57,1165.08) scale(0.9401,1)" font-family="'Liberation Serif', 'Times New Roman', serif" font-weight="normal" font-size="32.31" fill="#000" >-80</text>
<text transform="translate(1059.54,1165.08) scale(0.9696,1)" font-family="'Liberation Serif', 'Times New Roman', serif" font-weight="normal" font-size="32.31" fill="#000" >-60</text>
<text transform="translate(1167.07,1165.08) scale(0.9401,1)" font-family="'Liberation Serif', 'Times New Roman', serif" font-weight="normal" font-size="32.31" fill="#000" >-40</text>
<text transform="translate(1269.67,1165.08) scale(0.9401,1)" font-family="'Liberation Serif', 'Times New Roman', serif" font-weight="normal" font-size="32.31" fill="#000" >-20</text>
<text transform="translate(1388.91,1165.08) scale(1.0444,1)" font-family="'Liberation Serif', 'Times New Roman', serif" font-weight="normal" font-size="32.31" fill="#000" >0</text>
<text transform="translate(1056.17,1210.20) scale(0.9303,1)" font-family="'Liberation Serif', 'Times New Roman', serif" font-weight="normal" font-size="37.50" fill="#000" stroke="#000" stroke-width="0.6" stroke-linejoin="round" >Global X</text>
<text transform="translate(1194.16,1210.20) scale(1.0041,1)" font-family="'Liberation Sans', Arial, sans-serif" font-weight="bold" font-size="34.76" fill="#000" >(m)</text>
<text transform="translate(787.30,1017.45) rotate(-90) scale(0.9190,1)" font-family="'Liberation Serif', 'Times New Roman', serif" font-weight="normal" font-size="38.39" fill="#000" stroke="#000" stroke-width="0.7" stroke-linejoin="round">Global Y (m)</text>
<rect x="1212.0" y="912.9" width="226.6" height="209.7" fill="#fff" stroke="#444" stroke-width="1.5"/>
<path d="M1219.3,935.9H1295.7" stroke="#d01818" stroke-width="4.4" stroke-dasharray="19.3 16.6"/>
<path d="M1219.3,976.9H1295.7" stroke="#1a1ad8" stroke-width="3.6"/>
<path d="M1252.00,1012.70L1264.00,1024.70M1252.00,1024.70L1264.00,1012.70" stroke="#222" stroke-width="1.2" fill="none"/>
<path d="M1258.00,1054.80L1258.00,1070.80M1252.34,1057.14L1263.66,1068.46M1250.00,1062.80L1266.00,1062.80M1252.34,1068.46L1263.66,1057.14" stroke="#e01010" stroke-width="1.3" fill="none"/>
<circle cx="1257.0" cy="1099.6" r="7.6" stroke="#e020e0" stroke-width="1.5" fill="none"/>
<text transform="translate(1304.24,942.70) scale(0.9434,1)" font-family="'Liberation Serif', 'Times New Roman', serif" font-weight="normal" font-size="24.43" fill="#000" stroke="#000" stroke-width="0.35" stroke-linejoin="round" >Expected path</text>
<text transform="translate(1305.58,983.70) scale(0.9545,1)" font-family="'Liberation Serif', 'Times New Roman', serif" font-weight="normal" font-size="23.82" fill="#000" stroke="#000" stroke-width="0.35" stroke-linejoin="round" >Actual path</text>
<text transform="translate(1304.24,1015.00) scale(1.0269,1)" font-family="'Liberation Serif', 'Times New Roman', serif" font-weight="normal" font-size="22.44" fill="#000" stroke="#000" stroke-width="0.35" stroke-linejoin="round" >Location</text>
<text transform="translate(1304.90,1038.90) scale(0.9944,1)" font-family="'Liberation Serif', 'Times New Roman', serif" font-weight="normal" font-size="23.05" fill="#000" stroke="#000" stroke-width="0.35" stroke-linejoin="round" >boundary</text>
<text transform="translate(1303.95,1072.00) scale(0.9846,1)" font-family="'Liberation Serif', 'Times New Roman', serif" font-weight="normal" font-size="23.56" fill="#000" stroke="#000" stroke-width="0.35" stroke-linejoin="round" >Control point</text>
<text transform="translate(1304.97,1107.90) scale(0.9631,1)" font-family="'Liberation Serif', 'Times New Roman', serif" font-weight="normal" font-size="23.82" fill="#000" stroke="#000" stroke-width="0.35" stroke-linejoin="round" >Initial point</text>
</svg>
</body></html>
